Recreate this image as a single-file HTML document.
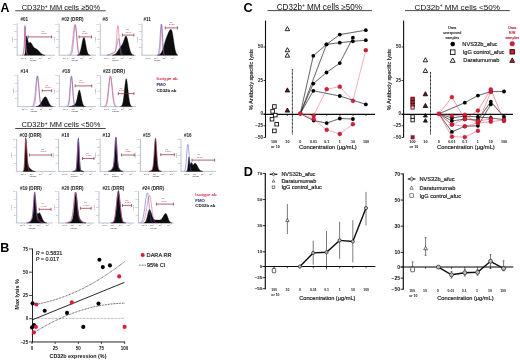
<!DOCTYPE html>
<html><head><meta charset="utf-8"><title>Figure</title>
<style>html,body{margin:0;padding:0;background:#fff}body{width:520px;height:360px;overflow:hidden}</style></head>
<body>
<svg width="520" height="360" viewBox="0 0 520 360" style="display:block;font-family:'Liberation Sans',Arial,sans-serif">
<defs><filter id="soft" x="0" y="0" width="100%" height="100%"><feGaussianBlur stdDeviation="0.3"/></filter></defs>
<rect width="520" height="360" fill="#fff"/>
<g filter="url(#soft)">
<text x="0.4" y="11.5" font-size="12.3" font-weight="bold" fill="#000">A</text>
<text x="21.7" y="10.3" font-size="7.45" fill="#111">CD32b<tspan font-size="4.8" dy="-2.5">+</tspan><tspan dy="2.5"> </tspan>MM cells ≥50%</text>
<path d="M15.2 10.8 H105.7" stroke="#1a1a1a" stroke-width="0.8"/>
<text x="20.4" y="20.9" font-size="4.6" font-weight="bold" fill="#1a1a1a">#01</text>
<path d="M17.2 23.8 V55.2 H55" fill="none" stroke="#959bb8" stroke-width="0.6"/>
<path d="M17.2 23.8 h-1.0" stroke="#959bb8" stroke-width="0.4"/>
<text x="16.1" y="24.5" font-size="1.7" fill="#8e94ae" text-anchor="end">100</text>
<path d="M17.2 31.65 h-1.0" stroke="#959bb8" stroke-width="0.4"/>
<text x="16.1" y="32.35" font-size="1.7" fill="#8e94ae" text-anchor="end">75</text>
<path d="M17.2 39.5 h-1.0" stroke="#959bb8" stroke-width="0.4"/>
<text x="16.1" y="40.2" font-size="1.7" fill="#8e94ae" text-anchor="end">50</text>
<path d="M17.2 47.35 h-1.0" stroke="#959bb8" stroke-width="0.4"/>
<text x="16.1" y="48.05" font-size="1.7" fill="#8e94ae" text-anchor="end">25</text>
<path d="M17.2 55.2 h-1.0" stroke="#959bb8" stroke-width="0.4"/>
<text transform="translate(13 39.5) rotate(-90)" font-size="2.0" fill="#6a7090" text-anchor="middle">Count</text>
<text x="22.11" y="58.5" font-size="2.4" fill="#444" text-anchor="middle">-10³</text>
<path d="M22.11 55.2 v0.9" stroke="#959bb8" stroke-width="0.35"/>
<text x="25.52" y="58.5" font-size="2.4" fill="#444" text-anchor="middle">0</text>
<path d="M25.52 55.2 v0.9" stroke="#959bb8" stroke-width="0.35"/>
<text x="31.56" y="58.5" font-size="2.4" fill="#444" text-anchor="middle">10³</text>
<path d="M31.56 55.2 v0.9" stroke="#959bb8" stroke-width="0.35"/>
<text x="40.64" y="58.5" font-size="2.4" fill="#444" text-anchor="middle">10⁴</text>
<path d="M40.64 55.2 v0.9" stroke="#959bb8" stroke-width="0.35"/>
<text x="49.71" y="58.5" font-size="2.4" fill="#444" text-anchor="middle">10⁵</text>
<path d="M49.71 55.2 v0.9" stroke="#959bb8" stroke-width="0.35"/>
<text x="33.08" y="60.8" font-size="2.2" fill="#444" text-anchor="middle">CD32b</text>
<path d="M24.05 55.15 L24.32 55.04 L24.58 54.74 L24.85 54.01 L25.11 52.52 L25.38 49.95 L25.64 46.25 L25.91 41.94 L26.17 38.1 L26.44 36 L26.7 35.79 L26.97 36.25 L27.23 37.2 L27.5 38.44 L27.76 39.77 L28.03 40.99 L28.29 41.96 L28.55 42.59 L28.82 42.89 L29.08 42.89 L29.35 42.72 L29.61 42.48 L29.88 42.3 L30.14 42.26 L30.41 42.38 L30.67 42.54 L30.94 42.76 L31.2 43.05 L31.47 43.4 L31.73 43.81 L32 44.26 L32.26 44.73 L32.53 45.21 L32.79 45.69 L33.06 46.14 L33.32 46.56 L33.58 46.94 L33.85 47.28 L34.11 47.56 L34.38 47.81 L34.64 48.01 L34.91 48.17 L35.17 48.31 L35.44 48.43 L35.7 48.55 L35.97 48.67 L36.23 48.8 L36.5 48.95 L36.76 49.11 L37.03 49.29 L37.29 49.49 L37.56 49.71 L37.82 49.95 L38.09 50.21 L38.35 50.48 L38.62 50.77 L38.88 51.07 L39.14 51.37 L39.41 51.68 L39.67 51.98 L39.94 52.29 L40.2 52.58 L40.47 52.86 L40.73 53.13 L41 53.38 L41.26 53.61 L41.53 53.82 L41.79 54.02 L42.06 54.19 L42.32 54.35 L42.59 54.48 L42.85 54.6 L43.12 54.71 L43.38 54.8 L43.65 54.87 L43.91 54.93 L44.17 54.99 L44.44 55.03 L44.7 55.07 L44.97 55.1 L44.97 55.2 L24.05 55.2 Z" fill="#0a0a0a" stroke="#0a0a0a" stroke-width="0.3"/>
<path d="M22.2 55.12 L22.47 55.01 L22.73 54.77 L22.99 54.31 L23.26 53.54 L23.52 52.35 L23.79 50.68 L24.05 48.4 L24.32 44.66 L24.58 37.72 L24.85 29.1 L25.11 26.5 L25.38 32.93 L25.64 41.26 L25.91 46.37 L26.17 49.13 L26.44 51.06 L26.7 52.55 L26.97 53.63 L27.23 54.34 L27.5 54.76 L27.76 55 L28.03 55.11" fill="none" stroke="#5a58c0" stroke-width="0.55"/>
<path d="M22.2 55.15 L22.47 55.06 L22.73 54.86 L22.99 54.46 L23.26 53.72 L23.52 52.54 L23.79 50.83 L24.05 48.5 L24.32 44.53 L24.58 36.41 L24.85 26.41 L25.11 25.44 L25.38 34.74 L25.64 43.37 L25.91 47.64 L26.17 50.04 L26.44 51.84 L26.7 53.19 L26.97 54.1 L27.23 54.64 L27.5 54.94 L27.76 55.09" fill="none" stroke="#da5272" stroke-width="0.55"/>
<path d="M28.3 36.9 H51.7 M28.3 35.4 v3 M51.7 35.4 v3" fill="none" stroke="#8a2636" stroke-width="0.7"/>
<text x="43" y="32" font-size="2.1" fill="#a83040" text-anchor="middle">M1</text>
<text x="44" y="34.3" font-size="2.1" fill="#a83040" text-anchor="middle">72.8%</text>
<text x="61.6" y="20.9" font-size="4.6" font-weight="bold" fill="#1a1a1a">#02 (DRR)</text>
<path d="M59.2 23.8 V55.2 H96" fill="none" stroke="#959bb8" stroke-width="0.6"/>
<path d="M59.2 23.8 h-1.0" stroke="#959bb8" stroke-width="0.4"/>
<text x="58.1" y="24.5" font-size="1.7" fill="#8e94ae" text-anchor="end">100</text>
<path d="M59.2 31.65 h-1.0" stroke="#959bb8" stroke-width="0.4"/>
<text x="58.1" y="32.35" font-size="1.7" fill="#8e94ae" text-anchor="end">75</text>
<path d="M59.2 39.5 h-1.0" stroke="#959bb8" stroke-width="0.4"/>
<text x="58.1" y="40.2" font-size="1.7" fill="#8e94ae" text-anchor="end">50</text>
<path d="M59.2 47.35 h-1.0" stroke="#959bb8" stroke-width="0.4"/>
<text x="58.1" y="48.05" font-size="1.7" fill="#8e94ae" text-anchor="end">25</text>
<path d="M59.2 55.2 h-1.0" stroke="#959bb8" stroke-width="0.4"/>
<text transform="translate(55 39.5) rotate(-90)" font-size="2.0" fill="#6a7090" text-anchor="middle">Count</text>
<text x="63.98" y="58.5" font-size="2.4" fill="#444" text-anchor="middle">-10³</text>
<path d="M63.98 55.2 v0.9" stroke="#959bb8" stroke-width="0.35"/>
<text x="67.3" y="58.5" font-size="2.4" fill="#444" text-anchor="middle">0</text>
<path d="M67.3 55.2 v0.9" stroke="#959bb8" stroke-width="0.35"/>
<text x="73.18" y="58.5" font-size="2.4" fill="#444" text-anchor="middle">10³</text>
<path d="M73.18 55.2 v0.9" stroke="#959bb8" stroke-width="0.35"/>
<text x="82.02" y="58.5" font-size="2.4" fill="#444" text-anchor="middle">10⁴</text>
<path d="M82.02 55.2 v0.9" stroke="#959bb8" stroke-width="0.35"/>
<text x="90.85" y="58.5" font-size="2.4" fill="#444" text-anchor="middle">10⁵</text>
<path d="M90.85 55.2 v0.9" stroke="#959bb8" stroke-width="0.35"/>
<text x="74.66" y="60.8" font-size="2.2" fill="#444" text-anchor="middle">CD32b</text>
<path d="M77.21 55.09 L77.47 55.04 L77.73 54.96 L77.99 54.86 L78.24 54.73 L78.5 54.55 L78.76 54.31 L79.02 54.01 L79.27 53.63 L79.53 53.15 L79.79 52.58 L80.05 51.89 L80.3 51.09 L80.56 50.17 L80.82 49.13 L81.08 47.99 L81.33 46.76 L81.59 45.47 L81.85 44.15 L82.11 42.84 L82.36 41.57 L82.62 40.41 L82.88 39.38 L83.14 38.54 L83.39 37.91 L83.65 37.52 L83.91 37.4 L84.17 37.58 L84.43 38.07 L84.68 38.85 L84.94 39.88 L85.2 41.1 L85.46 42.47 L85.71 43.91 L85.97 45.37 L86.23 46.8 L86.49 48.15 L86.74 49.39 L87 50.5 L87.26 51.47 L87.52 52.29 L87.77 52.97 L88.03 53.53 L88.29 53.96 L88.55 54.3 L88.8 54.56 L89.06 54.76 L89.32 54.9 L89.58 54.99 L89.83 55.06 L90.09 55.11 L90.09 55.2 L77.21 55.2 Z" fill="#0a0a0a" stroke="#0a0a0a" stroke-width="0.3"/>
<path d="M70.26 55.09 L70.52 55.01 L70.77 54.88 L71.03 54.68 L71.29 54.36 L71.55 53.89 L71.81 53.21 L72.06 52.28 L72.32 51.03 L72.58 49.42 L72.84 47.42 L73.09 45.04 L73.35 42.31 L73.61 39.32 L73.87 36.21 L74.12 33.15 L74.38 30.34 L74.64 27.98 L74.9 26.27 L75.15 25.34 L75.41 25.29 L75.67 26.22 L75.93 28.05 L76.18 30.62 L76.44 33.68 L76.7 36.99 L76.96 40.3 L77.21 43.41 L77.47 46.19 L77.73 48.54 L77.99 50.44 L78.24 51.91 L78.5 53 L78.76 53.78 L79.02 54.32 L79.27 54.67 L79.53 54.89 L79.79 55.02 L80.05 55.1" fill="none" stroke="#5a58c0" stroke-width="0.55"/>
<path d="M68.46 55.12 L68.71 55.07 L68.97 55 L69.23 54.89 L69.49 54.74 L69.74 54.52 L70 54.23 L70.26 53.82 L70.52 53.28 L70.77 52.58 L71.03 51.7 L71.29 50.59 L71.55 49.25 L71.81 47.66 L72.06 45.82 L72.32 43.73 L72.58 41.45 L72.84 39 L73.09 36.47 L73.35 33.93 L73.61 31.5 L73.87 29.26 L74.12 27.33 L74.38 25.8 L74.64 24.76 L74.9 24.25 L75.15 24.32 L75.41 25.04 L75.67 26.38 L75.93 28.25 L76.18 30.54 L76.44 33.11 L76.7 35.85 L76.96 38.6 L77.21 41.27 L77.47 43.76 L77.73 46.01 L77.99 47.97 L78.24 49.64 L78.5 51.01 L78.76 52.11 L79.02 52.97 L79.27 53.63 L79.53 54.12 L79.79 54.47 L80.05 54.72 L80.3 54.89 L80.56 55 L80.82 55.08 L81.08 55.13" fill="none" stroke="#da5272" stroke-width="0.55"/>
<path d="M79 36.9 H91.5 M79 35.4 v3 M91.5 35.4 v3" fill="none" stroke="#8a2636" stroke-width="0.7"/>
<text x="84" y="32" font-size="2.1" fill="#a83040" text-anchor="middle">M1</text>
<text x="85" y="34.3" font-size="2.1" fill="#a83040" text-anchor="middle">97.2%</text>
<text x="102.6" y="20.9" font-size="4.6" font-weight="bold" fill="#1a1a1a">#8</text>
<path d="M100.3 23.8 V55.2 H136" fill="none" stroke="#959bb8" stroke-width="0.6"/>
<path d="M100.3 23.8 h-1.0" stroke="#959bb8" stroke-width="0.4"/>
<text x="99.2" y="24.5" font-size="1.7" fill="#8e94ae" text-anchor="end">100</text>
<path d="M100.3 31.65 h-1.0" stroke="#959bb8" stroke-width="0.4"/>
<text x="99.2" y="32.35" font-size="1.7" fill="#8e94ae" text-anchor="end">75</text>
<path d="M100.3 39.5 h-1.0" stroke="#959bb8" stroke-width="0.4"/>
<text x="99.2" y="40.2" font-size="1.7" fill="#8e94ae" text-anchor="end">50</text>
<path d="M100.3 47.35 h-1.0" stroke="#959bb8" stroke-width="0.4"/>
<text x="99.2" y="48.05" font-size="1.7" fill="#8e94ae" text-anchor="end">25</text>
<path d="M100.3 55.2 h-1.0" stroke="#959bb8" stroke-width="0.4"/>
<text transform="translate(96.1 39.5) rotate(-90)" font-size="2.0" fill="#6a7090" text-anchor="middle">Count</text>
<text x="104.94" y="58.5" font-size="2.4" fill="#444" text-anchor="middle">-10³</text>
<path d="M104.94 55.2 v0.9" stroke="#959bb8" stroke-width="0.35"/>
<text x="108.15" y="58.5" font-size="2.4" fill="#444" text-anchor="middle">0</text>
<path d="M108.15 55.2 v0.9" stroke="#959bb8" stroke-width="0.35"/>
<text x="113.87" y="58.5" font-size="2.4" fill="#444" text-anchor="middle">10³</text>
<path d="M113.87 55.2 v0.9" stroke="#959bb8" stroke-width="0.35"/>
<text x="122.43" y="58.5" font-size="2.4" fill="#444" text-anchor="middle">10⁴</text>
<path d="M122.43 55.2 v0.9" stroke="#959bb8" stroke-width="0.35"/>
<text x="131" y="58.5" font-size="2.4" fill="#444" text-anchor="middle">10⁵</text>
<path d="M131 55.2 v0.9" stroke="#959bb8" stroke-width="0.35"/>
<text x="115.29" y="60.8" font-size="2.2" fill="#444" text-anchor="middle">CD32b</text>
<path d="M112.28 55.09 L112.53 55.06 L112.78 55.02 L113.03 54.98 L113.28 54.93 L113.53 54.86 L113.78 54.79 L114.03 54.7 L114.28 54.59 L114.53 54.47 L114.78 54.33 L115.03 54.16 L115.28 53.98 L115.53 53.78 L115.78 53.55 L116.03 53.3 L116.28 53.03 L116.53 52.73 L116.78 52.41 L117.03 52.07 L117.28 51.72 L117.53 51.35 L117.78 50.97 L118.03 50.58 L118.27 50.19 L118.52 49.8 L118.77 49.41 L119.02 49.02 L119.27 48.65 L119.52 48.29 L119.77 47.94 L120.02 47.6 L120.27 47.27 L120.52 46.94 L120.77 46.61 L121.02 46.27 L121.27 45.93 L121.52 45.58 L121.77 45.21 L122.02 44.8 L122.27 44.36 L122.52 43.88 L122.77 43.33 L123.02 42.74 L123.27 42.09 L123.52 41.39 L123.77 40.66 L124.02 39.9 L124.27 39.15 L124.52 38.43 L124.77 37.75 L125.02 37.16 L125.26 36.67 L125.51 36.32 L125.76 36.12 L126.01 36.09 L126.26 36.24 L126.51 36.56 L126.76 37.04 L127.01 37.68 L127.26 38.47 L127.51 39.37 L127.76 40.38 L128.01 41.46 L128.26 42.6 L128.51 43.76 L128.76 44.92 L129.01 46.06 L129.26 47.16 L129.51 48.21 L129.76 49.18 L130.01 50.07 L130.26 50.88 L130.51 51.59 L130.76 52.23 L131.01 52.77 L131.26 53.24 L131.51 53.63 L131.76 53.96 L132.01 54.23 L132.25 54.45 L132.5 54.63 L132.75 54.77 L133 54.88 L133.25 54.96 L133.5 55.02 L133.75 55.07 L134 55.11 L134 55.2 L112.28 55.2 Z" fill="#0a0a0a" stroke="#0a0a0a" stroke-width="0.3"/>
<path d="M107.54 55.09 L107.79 55.06 L108.04 55.03 L108.29 55 L108.54 54.95 L108.79 54.91 L109.04 54.85 L109.29 54.79 L109.54 54.72 L109.79 54.65 L110.04 54.56 L110.29 54.47 L110.54 54.37 L110.79 54.27 L111.04 54.16 L111.28 54.04 L111.53 53.92 L111.78 53.79 L112.03 53.67 L112.28 53.54 L112.53 53.41 L112.78 53.29 L113.03 53.17 L113.28 53.05 L113.53 52.93 L113.78 52.81 L114.03 52.67 L114.28 52.52 L114.53 52.33 L114.78 52.08 L115.03 51.76 L115.28 51.34 L115.53 50.82 L115.78 50.15 L116.03 49.33 L116.28 48.33 L116.53 47.17 L116.78 45.87 L117.03 44.47 L117.28 43.05 L117.53 41.69 L117.78 40.49 L118.03 39.54 L118.27 38.92 L118.52 38.69 L118.77 38.87 L119.02 39.42 L119.27 40.3 L119.52 41.46 L119.77 42.82 L120.02 44.32 L120.27 45.85 L120.52 47.37 L120.77 48.79 L121.02 50.08 L121.27 51.21 L121.52 52.16 L121.77 52.94 L122.02 53.56 L122.27 54.04 L122.52 54.4 L122.77 54.66 L123.02 54.85 L123.27 54.97 L123.52 55.06 L123.77 55.11" fill="none" stroke="#5a58c0" stroke-width="0.55"/>
<path d="M106.79 55.09 L107.04 55.06 L107.29 55.03 L107.54 55 L107.79 54.95 L108.04 54.9 L108.29 54.85 L108.54 54.78 L108.79 54.71 L109.04 54.63 L109.29 54.54 L109.54 54.44 L109.79 54.33 L110.04 54.21 L110.29 54.08 L110.54 53.95 L110.79 53.81 L111.04 53.66 L111.28 53.51 L111.53 53.36 L111.78 53.21 L112.03 53.06 L112.28 52.92 L112.53 52.78 L112.78 52.65 L113.03 52.54 L113.28 52.43 L113.53 52.34 L113.78 52.26 L114.03 52.18 L114.28 52.08 L114.53 51.93 L114.78 51.71 L115.03 51.34 L115.28 50.72 L115.53 49.73 L115.78 48.24 L116.03 46.14 L116.28 43.4 L116.53 40.09 L116.78 36.41 L117.03 32.69 L117.28 29.36 L117.53 26.87 L117.78 25.6 L118.03 25.72 L118.27 27.08 L118.52 29.48 L118.77 32.65 L119.02 36.26 L119.27 39.96 L119.52 43.45 L119.77 46.53 L120.02 49.06 L120.27 51.04 L120.52 52.5 L120.77 53.52 L121.02 54.2 L121.27 54.63 L121.52 54.89 L121.77 55.04 L122.02 55.12" fill="none" stroke="#da5272" stroke-width="0.55"/>
<path d="M122.5 35.1 H133.9 M122.5 33.6 v3 M133.9 33.6 v3" fill="none" stroke="#8a2636" stroke-width="0.7"/>
<text x="127.5" y="30.2" font-size="2.1" fill="#a83040" text-anchor="middle">M1</text>
<text x="128.5" y="32.5" font-size="2.1" fill="#a83040" text-anchor="middle">75.9%</text>
<text x="143.4" y="20.9" font-size="4.6" font-weight="bold" fill="#1a1a1a">#11</text>
<path d="M142 23.8 V55.2 H178" fill="none" stroke="#959bb8" stroke-width="0.6"/>
<path d="M142 23.8 h-1.0" stroke="#959bb8" stroke-width="0.4"/>
<text x="140.9" y="24.5" font-size="1.7" fill="#8e94ae" text-anchor="end">100</text>
<path d="M142 31.65 h-1.0" stroke="#959bb8" stroke-width="0.4"/>
<text x="140.9" y="32.35" font-size="1.7" fill="#8e94ae" text-anchor="end">75</text>
<path d="M142 39.5 h-1.0" stroke="#959bb8" stroke-width="0.4"/>
<text x="140.9" y="40.2" font-size="1.7" fill="#8e94ae" text-anchor="end">50</text>
<path d="M142 47.35 h-1.0" stroke="#959bb8" stroke-width="0.4"/>
<text x="140.9" y="48.05" font-size="1.7" fill="#8e94ae" text-anchor="end">25</text>
<path d="M142 55.2 h-1.0" stroke="#959bb8" stroke-width="0.4"/>
<text transform="translate(137.8 39.5) rotate(-90)" font-size="2.0" fill="#6a7090" text-anchor="middle">Count</text>
<text x="146.68" y="58.5" font-size="2.4" fill="#444" text-anchor="middle">-10³</text>
<path d="M146.68 55.2 v0.9" stroke="#959bb8" stroke-width="0.35"/>
<text x="149.92" y="58.5" font-size="2.4" fill="#444" text-anchor="middle">0</text>
<path d="M149.92 55.2 v0.9" stroke="#959bb8" stroke-width="0.35"/>
<text x="155.68" y="58.5" font-size="2.4" fill="#444" text-anchor="middle">10³</text>
<path d="M155.68 55.2 v0.9" stroke="#959bb8" stroke-width="0.35"/>
<text x="164.32" y="58.5" font-size="2.4" fill="#444" text-anchor="middle">10⁴</text>
<path d="M164.32 55.2 v0.9" stroke="#959bb8" stroke-width="0.35"/>
<text x="172.96" y="58.5" font-size="2.4" fill="#444" text-anchor="middle">10⁵</text>
<path d="M172.96 55.2 v0.9" stroke="#959bb8" stroke-width="0.35"/>
<text x="157.12" y="60.8" font-size="2.2" fill="#444" text-anchor="middle">CD32b</text>
<path d="M157.61 55.1 L157.86 55.07 L158.11 55.03 L158.36 54.97 L158.62 54.91 L158.87 54.83 L159.12 54.73 L159.37 54.61 L159.62 54.46 L159.87 54.29 L160.13 54.09 L160.38 53.84 L160.63 53.56 L160.88 53.24 L161.13 52.87 L161.38 52.45 L161.64 51.99 L161.89 51.47 L162.14 50.9 L162.39 50.28 L162.64 49.61 L162.9 48.9 L163.15 48.14 L163.4 47.35 L163.65 46.54 L163.9 45.7 L164.15 44.85 L164.41 43.99 L164.66 43.13 L164.91 42.28 L165.16 41.44 L165.41 40.63 L165.67 39.84 L165.92 39.07 L166.17 38.34 L166.42 37.64 L166.67 36.96 L166.92 36.29 L167.18 35.64 L167.43 35 L167.68 34.37 L167.93 33.76 L168.18 33.17 L168.44 32.6 L168.69 32.05 L168.94 31.53 L169.19 31.04 L169.44 30.61 L169.69 30.22 L169.95 29.9 L170.2 29.65 L170.45 29.49 L170.7 29.43 L170.95 29.46 L171.21 29.61 L171.46 29.87 L171.71 30.27 L171.96 30.92 L172.21 31.84 L172.46 33.01 L172.72 34.39 L172.97 35.94 L173.22 37.61 L173.47 39.35 L173.72 41.12 L173.97 42.86 L174.23 44.53 L174.48 46.1 L174.73 47.55 L174.98 48.86 L175.23 50.02 L175.49 51.02 L175.74 51.88 L175.99 52.6 L176.24 53.19 L176.49 53.67 L176.74 54.05 L177 54.35 L177.25 54.58 L177.5 54.75 L177.5 55.2 L157.61 55.2 Z" fill="#0a0a0a" stroke="#0a0a0a" stroke-width="0.3"/>
<path d="M158.62 55.11 L158.87 54.98 L159.12 54.7 L159.37 54.13 L159.62 53.08 L159.87 51.3 L160.13 48.59 L160.38 44.84 L160.63 40.17 L160.88 35.03 L161.13 30.19 L161.38 26.51 L161.64 24.78 L161.89 25.36 L162.14 28.14 L162.39 32.51 L162.64 37.6 L162.9 42.58 L163.15 46.83 L163.4 50.07 L163.65 52.29 L163.9 53.67 L164.15 54.46 L164.41 54.87 L164.66 55.06 L164.91 55.15" fill="none" stroke="#da5272" stroke-width="0.55"/>
<path d="M157.36 55.11 L157.61 55.02 L157.86 54.84 L158.11 54.53 L158.36 54 L158.62 53.15 L158.87 51.86 L159.12 50.02 L159.37 47.54 L159.62 44.4 L159.87 40.69 L160.13 36.61 L160.38 32.51 L160.63 28.79 L160.88 25.91 L161.13 24.23 L161.38 24.01 L161.64 25.62 L161.89 28.88 L162.14 33.21 L162.39 37.96 L162.64 42.51 L162.9 46.44 L163.15 49.52 L163.4 51.74 L163.65 53.23 L163.9 54.14 L164.15 54.67 L164.41 54.95 L164.66 55.09" fill="none" stroke="#5a58c0" stroke-width="0.55"/>
<path d="M165.3 27.9 H177.5 M165.3 26.4 v3 M177.5 26.4 v3" fill="none" stroke="#8a2636" stroke-width="0.7"/>
<text x="171" y="23" font-size="2.1" fill="#a83040" text-anchor="middle">M1</text>
<text x="172" y="25.3" font-size="2.1" fill="#a83040" text-anchor="middle">83.5%</text>
<text x="20.4" y="72.8" font-size="4.6" font-weight="bold" fill="#1a1a1a">#14</text>
<path d="M17.8 75.2 V106.6 H55.8" fill="none" stroke="#959bb8" stroke-width="0.6"/>
<path d="M17.8 75.2 h-1.0" stroke="#959bb8" stroke-width="0.4"/>
<text x="16.7" y="75.9" font-size="1.7" fill="#8e94ae" text-anchor="end">100</text>
<path d="M17.8 83.05 h-1.0" stroke="#959bb8" stroke-width="0.4"/>
<text x="16.7" y="83.75" font-size="1.7" fill="#8e94ae" text-anchor="end">75</text>
<path d="M17.8 90.9 h-1.0" stroke="#959bb8" stroke-width="0.4"/>
<text x="16.7" y="91.6" font-size="1.7" fill="#8e94ae" text-anchor="end">50</text>
<path d="M17.8 98.75 h-1.0" stroke="#959bb8" stroke-width="0.4"/>
<text x="16.7" y="99.45" font-size="1.7" fill="#8e94ae" text-anchor="end">25</text>
<path d="M17.8 106.6 h-1.0" stroke="#959bb8" stroke-width="0.4"/>
<text transform="translate(13.6 90.9) rotate(-90)" font-size="2.0" fill="#6a7090" text-anchor="middle">Count</text>
<text x="22.74" y="109.9" font-size="2.4" fill="#444" text-anchor="middle">-10³</text>
<path d="M22.74 106.6 v0.9" stroke="#959bb8" stroke-width="0.35"/>
<text x="26.16" y="109.9" font-size="2.4" fill="#444" text-anchor="middle">0</text>
<path d="M26.16 106.6 v0.9" stroke="#959bb8" stroke-width="0.35"/>
<text x="32.24" y="109.9" font-size="2.4" fill="#444" text-anchor="middle">10³</text>
<path d="M32.24 106.6 v0.9" stroke="#959bb8" stroke-width="0.35"/>
<text x="41.36" y="109.9" font-size="2.4" fill="#444" text-anchor="middle">10⁴</text>
<path d="M41.36 106.6 v0.9" stroke="#959bb8" stroke-width="0.35"/>
<text x="50.48" y="109.9" font-size="2.4" fill="#444" text-anchor="middle">10⁵</text>
<path d="M50.48 106.6 v0.9" stroke="#959bb8" stroke-width="0.35"/>
<text x="33.76" y="112.2" font-size="2.2" fill="#444" text-anchor="middle">CD32b</text>
<path d="M35.87 106.48 L36.13 106.45 L36.4 106.41 L36.67 106.36 L36.93 106.3 L37.2 106.23 L37.47 106.15 L37.73 106.05 L38 105.92 L38.26 105.78 L38.53 105.62 L38.8 105.43 L39.06 105.22 L39.33 104.98 L39.59 104.71 L39.86 104.41 L40.13 104.08 L40.39 103.72 L40.66 103.33 L40.93 102.91 L41.19 102.47 L41.46 102.01 L41.72 101.53 L41.99 101.04 L42.26 100.55 L42.52 100.06 L42.79 99.57 L43.06 99.11 L43.32 98.66 L43.59 98.25 L43.85 97.88 L44.12 97.55 L44.39 97.28 L44.65 97.06 L44.92 96.91 L45.18 96.82 L45.45 96.8 L45.72 96.87 L45.98 97.04 L46.25 97.31 L46.52 97.66 L46.78 98.09 L47.05 98.58 L47.31 99.13 L47.58 99.71 L47.85 100.31 L48.11 100.91 L48.38 101.52 L48.65 102.1 L48.91 102.66 L49.18 103.19 L49.44 103.68 L49.71 104.12 L49.98 104.52 L50.24 104.87 L50.51 105.18 L50.77 105.44 L51.04 105.67 L51.31 105.86 L51.57 106.02 L51.84 106.14 L52.11 106.25 L52.37 106.33 L52.64 106.4 L52.9 106.45 L53.17 106.49 L53.17 106.6 L35.87 106.6 Z" fill="#0a0a0a" stroke="#0a0a0a" stroke-width="0.3"/>
<path d="M33.21 106.48 L33.47 106.38 L33.74 106.19 L34.01 105.89 L34.27 105.41 L34.54 104.67 L34.8 103.6 L35.07 102.1 L35.34 100.12 L35.6 97.63 L35.87 94.65 L36.13 91.28 L36.4 87.72 L36.67 84.22 L36.93 81.07 L37.2 78.59 L37.47 77.05 L37.73 76.61 L38 77.32 L38.26 79.11 L38.53 81.77 L38.8 85.03 L39.06 88.57 L39.33 92.11 L39.59 95.4 L39.86 98.27 L40.13 100.64 L40.39 102.5 L40.66 103.89 L40.93 104.87 L41.19 105.54 L41.46 105.98 L41.72 106.25 L41.99 106.41 L42.26 106.5" fill="none" stroke="#da5272" stroke-width="0.55"/>
<path d="M31.61 106.52 L31.88 106.46 L32.14 106.37 L32.41 106.22 L32.67 105.99 L32.94 105.66 L33.21 105.18 L33.47 104.51 L33.74 103.6 L34.01 102.41 L34.27 100.89 L34.54 99.02 L34.8 96.79 L35.07 94.25 L35.34 91.43 L35.6 88.46 L35.87 85.46 L36.13 82.6 L36.4 80.05 L36.67 77.99 L36.93 76.55 L37.2 75.86 L37.47 75.99 L37.73 77.05 L38 78.96 L38.26 81.55 L38.53 84.6 L38.8 87.87 L39.06 91.16 L39.33 94.26 L39.59 97.04 L39.86 99.43 L40.13 101.39 L40.39 102.93 L40.66 104.09 L40.93 104.94 L41.19 105.54 L41.46 105.94 L41.72 106.2 L41.99 106.37 L42.26 106.47 L42.52 106.53" fill="none" stroke="#5a58c0" stroke-width="0.55"/>
<path d="M42.2 90.7 H51.7 M42.2 89.2 v3 M51.7 89.2 v3" fill="none" stroke="#8a2636" stroke-width="0.7"/>
<text x="47" y="85.8" font-size="2.1" fill="#a83040" text-anchor="middle">M1</text>
<text x="48" y="88.1" font-size="2.1" fill="#a83040" text-anchor="middle">92.1%</text>
<text x="62.3" y="72.8" font-size="4.6" font-weight="bold" fill="#1a1a1a">#18</text>
<path d="M59.3 75.2 V106.6 H96" fill="none" stroke="#959bb8" stroke-width="0.6"/>
<path d="M59.3 75.2 h-1.0" stroke="#959bb8" stroke-width="0.4"/>
<text x="58.2" y="75.9" font-size="1.7" fill="#8e94ae" text-anchor="end">100</text>
<path d="M59.3 83.05 h-1.0" stroke="#959bb8" stroke-width="0.4"/>
<text x="58.2" y="83.75" font-size="1.7" fill="#8e94ae" text-anchor="end">75</text>
<path d="M59.3 90.9 h-1.0" stroke="#959bb8" stroke-width="0.4"/>
<text x="58.2" y="91.6" font-size="1.7" fill="#8e94ae" text-anchor="end">50</text>
<path d="M59.3 98.75 h-1.0" stroke="#959bb8" stroke-width="0.4"/>
<text x="58.2" y="99.45" font-size="1.7" fill="#8e94ae" text-anchor="end">25</text>
<path d="M59.3 106.6 h-1.0" stroke="#959bb8" stroke-width="0.4"/>
<text transform="translate(55.1 90.9) rotate(-90)" font-size="2.0" fill="#6a7090" text-anchor="middle">Count</text>
<text x="64.07" y="109.9" font-size="2.4" fill="#444" text-anchor="middle">-10³</text>
<path d="M64.07 106.6 v0.9" stroke="#959bb8" stroke-width="0.35"/>
<text x="67.37" y="109.9" font-size="2.4" fill="#444" text-anchor="middle">0</text>
<path d="M67.37 106.6 v0.9" stroke="#959bb8" stroke-width="0.35"/>
<text x="73.25" y="109.9" font-size="2.4" fill="#444" text-anchor="middle">10³</text>
<path d="M73.25 106.6 v0.9" stroke="#959bb8" stroke-width="0.35"/>
<text x="82.05" y="109.9" font-size="2.4" fill="#444" text-anchor="middle">10⁴</text>
<path d="M82.05 106.6 v0.9" stroke="#959bb8" stroke-width="0.35"/>
<text x="90.86" y="109.9" font-size="2.4" fill="#444" text-anchor="middle">10⁵</text>
<path d="M90.86 106.6 v0.9" stroke="#959bb8" stroke-width="0.35"/>
<text x="74.71" y="112.2" font-size="2.2" fill="#444" text-anchor="middle">CD32b</text>
<path d="M68.79 106.49 L69.05 106.46 L69.3 106.44 L69.56 106.41 L69.82 106.38 L70.07 106.34 L70.33 106.29 L70.59 106.24 L70.84 106.19 L71.1 106.13 L71.36 106.06 L71.61 105.99 L71.87 105.91 L72.13 105.83 L72.38 105.74 L72.64 105.64 L72.9 105.54 L73.16 105.43 L73.41 105.31 L73.67 105.18 L73.93 105.03 L74.18 104.87 L74.44 104.69 L74.7 104.47 L74.95 104.21 L75.21 103.89 L75.47 103.49 L75.72 103 L75.98 102.41 L76.24 101.69 L76.49 100.84 L76.75 99.85 L77.01 98.74 L77.26 97.52 L77.52 96.23 L77.78 94.91 L78.04 93.63 L78.29 92.46 L78.55 91.46 L78.81 90.69 L79.06 90.2 L79.32 90.04 L79.58 90.2 L79.83 90.67 L80.09 91.4 L80.35 92.38 L80.6 93.54 L80.86 94.83 L81.12 96.19 L81.37 97.57 L81.63 98.9 L81.89 100.16 L82.14 101.31 L82.4 102.33 L82.66 103.21 L82.92 103.96 L83.17 104.57 L83.43 105.06 L83.69 105.45 L83.94 105.75 L84.2 105.98 L84.46 106.15 L84.71 106.28 L84.97 106.37 L85.23 106.43 L85.48 106.48 L85.74 106.51 L85.74 106.6 L68.79 106.6 Z" fill="#0a0a0a" stroke="#0a0a0a" stroke-width="0.3"/>
<path d="M67.51 106.53 L67.76 106.45 L68.02 106.3 L68.28 106.02 L68.53 105.54 L68.79 104.77 L69.05 103.57 L69.3 101.84 L69.56 99.49 L69.82 96.5 L70.07 92.93 L70.33 89.02 L70.59 85.07 L70.84 81.53 L71.1 78.83 L71.36 77.33 L71.61 77.25 L71.87 78.6 L72.13 81.19 L72.38 84.66 L72.64 88.58 L72.9 92.52 L73.16 96.13 L73.41 99.2 L73.67 101.62 L73.93 103.41 L74.18 104.66 L74.44 105.48 L74.7 105.98 L74.95 106.28 L75.21 106.44 L75.47 106.52" fill="none" stroke="#da5272" stroke-width="0.55"/>
<path d="M66.73 106.48 L66.99 106.38 L67.25 106.22 L67.51 105.96 L67.76 105.55 L68.02 104.94 L68.28 104.06 L68.53 102.83 L68.79 101.21 L69.05 99.13 L69.3 96.6 L69.56 93.66 L69.82 90.41 L70.07 87 L70.33 83.67 L70.59 80.66 L70.84 78.23 L71.1 76.59 L71.36 75.91 L71.61 76.28 L71.87 77.71 L72.13 80.06 L72.38 83.07 L72.64 86.49 L72.9 90.02 L73.16 93.42 L73.41 96.49 L73.67 99.12 L73.93 101.27 L74.18 102.93 L74.44 104.17 L74.7 105.04 L74.95 105.64 L75.21 106.03 L75.47 106.27 L75.72 106.42 L75.98 106.5" fill="none" stroke="#5a58c0" stroke-width="0.55"/>
<path d="M75.1 85.9 H91.8 M75.1 84.4 v3 M91.8 84.4 v3" fill="none" stroke="#8a2636" stroke-width="0.7"/>
<text x="81" y="81" font-size="2.1" fill="#a83040" text-anchor="middle">M1</text>
<text x="82" y="83.3" font-size="2.1" fill="#a83040" text-anchor="middle">76.4%</text>
<text x="103" y="72.8" font-size="4.6" font-weight="bold" fill="#1a1a1a">#23 (DRR)</text>
<path d="M100.6 75.2 V106.6 H136" fill="none" stroke="#959bb8" stroke-width="0.6"/>
<path d="M100.6 75.2 h-1.0" stroke="#959bb8" stroke-width="0.4"/>
<text x="99.5" y="75.9" font-size="1.7" fill="#8e94ae" text-anchor="end">100</text>
<path d="M100.6 83.05 h-1.0" stroke="#959bb8" stroke-width="0.4"/>
<text x="99.5" y="83.75" font-size="1.7" fill="#8e94ae" text-anchor="end">75</text>
<path d="M100.6 90.9 h-1.0" stroke="#959bb8" stroke-width="0.4"/>
<text x="99.5" y="91.6" font-size="1.7" fill="#8e94ae" text-anchor="end">50</text>
<path d="M100.6 98.75 h-1.0" stroke="#959bb8" stroke-width="0.4"/>
<text x="99.5" y="99.45" font-size="1.7" fill="#8e94ae" text-anchor="end">25</text>
<path d="M100.6 106.6 h-1.0" stroke="#959bb8" stroke-width="0.4"/>
<text transform="translate(96.4 90.9) rotate(-90)" font-size="2.0" fill="#6a7090" text-anchor="middle">Count</text>
<text x="105.2" y="109.9" font-size="2.4" fill="#444" text-anchor="middle">-10³</text>
<path d="M105.2 106.6 v0.9" stroke="#959bb8" stroke-width="0.35"/>
<text x="108.39" y="109.9" font-size="2.4" fill="#444" text-anchor="middle">0</text>
<path d="M108.39 106.6 v0.9" stroke="#959bb8" stroke-width="0.35"/>
<text x="114.05" y="109.9" font-size="2.4" fill="#444" text-anchor="middle">10³</text>
<path d="M114.05 106.6 v0.9" stroke="#959bb8" stroke-width="0.35"/>
<text x="122.55" y="109.9" font-size="2.4" fill="#444" text-anchor="middle">10⁴</text>
<path d="M122.55 106.6 v0.9" stroke="#959bb8" stroke-width="0.35"/>
<text x="131.04" y="109.9" font-size="2.4" fill="#444" text-anchor="middle">10⁵</text>
<path d="M131.04 106.6 v0.9" stroke="#959bb8" stroke-width="0.35"/>
<text x="115.47" y="112.2" font-size="2.2" fill="#444" text-anchor="middle">CD32b</text>
<path d="M120.4 106.52 L120.65 106.46 L120.9 106.38 L121.15 106.26 L121.39 106.09 L121.64 105.83 L121.89 105.48 L122.14 104.99 L122.38 104.35 L122.63 103.51 L122.88 102.45 L123.13 101.14 L123.37 99.57 L123.62 97.74 L123.87 95.67 L124.12 93.39 L124.36 90.98 L124.61 88.51 L124.86 86.09 L125.11 83.84 L125.35 81.87 L125.6 80.29 L125.85 79.19 L126.1 78.65 L126.34 78.69 L126.59 79.25 L126.84 80.31 L127.09 81.79 L127.33 83.63 L127.58 85.74 L127.83 88 L128.08 90.33 L128.32 92.63 L128.57 94.84 L128.82 96.88 L129.07 98.71 L129.31 100.32 L129.56 101.7 L129.81 102.84 L130.06 103.78 L130.3 104.52 L130.55 105.09 L130.8 105.53 L131.05 105.85 L131.29 106.09 L131.54 106.26 L131.79 106.37 L132.04 106.45 L132.28 106.51 L132.28 106.6 L120.4 106.6 Z" fill="#0a0a0a" stroke="#0a0a0a" stroke-width="0.3"/>
<path d="M105.06 106.49 L105.31 106.41 L105.55 106.29 L105.8 106.12 L106.05 105.86 L106.3 105.48 L106.54 104.95 L106.79 104.24 L107.04 103.29 L107.29 102.08 L107.53 100.57 L107.78 98.73 L108.03 96.59 L108.28 94.16 L108.52 91.51 L108.77 88.72 L109.02 85.92 L109.27 83.25 L109.51 80.86 L109.76 78.89 L110.01 77.48 L110.26 76.72 L110.5 76.66 L110.75 77.27 L111 78.51 L111.25 80.3 L111.49 82.52 L111.74 85.05 L111.99 87.73 L112.24 90.45 L112.48 93.09 L112.73 95.55 L112.98 97.76 L113.23 99.68 L113.47 101.31 L113.72 102.65 L113.97 103.71 L114.22 104.53 L114.46 105.16 L114.71 105.61 L114.96 105.94 L115.21 106.17 L115.45 106.32 L115.7 106.43 L115.95 106.49" fill="none" stroke="#5a58c0" stroke-width="0.55"/>
<path d="M103.82 106.5 L104.07 106.44 L104.32 106.36 L104.56 106.25 L104.81 106.09 L105.06 105.88 L105.31 105.59 L105.55 105.2 L105.8 104.69 L106.05 104.05 L106.3 103.24 L106.54 102.25 L106.79 101.06 L107.04 99.65 L107.29 98.01 L107.53 96.17 L107.78 94.13 L108.03 91.94 L108.28 89.63 L108.52 87.27 L108.77 84.93 L109.02 82.71 L109.27 80.67 L109.51 78.91 L109.76 77.5 L110.01 76.51 L110.26 75.98 L110.5 75.94 L110.75 76.37 L111 77.25 L111.25 78.53 L111.49 80.17 L111.74 82.09 L111.99 84.21 L112.24 86.46 L112.48 88.76 L112.73 91.04 L112.98 93.23 L113.23 95.29 L113.47 97.18 L113.72 98.87 L113.97 100.35 L114.22 101.63 L114.46 102.7 L114.71 103.59 L114.96 104.32 L115.21 104.89 L115.45 105.34 L115.7 105.69 L115.95 105.95 L116.2 106.14 L116.44 106.28 L116.69 106.38 L116.94 106.45 L117.19 106.5" fill="none" stroke="#da5272" stroke-width="0.55"/>
<path d="M118.3 93.6 H133.9 M118.3 92.1 v3 M133.9 92.1 v3" fill="none" stroke="#8a2636" stroke-width="0.7"/>
<text x="121" y="88.7" font-size="2.1" fill="#a83040" text-anchor="middle">M1</text>
<text x="122" y="91" font-size="2.1" fill="#a83040" text-anchor="middle">99.1%</text>
<text x="156.4" y="79.9" font-size="4.3" font-weight="bold" fill="#d42840">Isotype ab</text>
<text x="156.4" y="85.7" font-size="4.3" font-weight="bold" fill="#20207c">FMO</text>
<text x="156.4" y="91.5" font-size="4.35" font-weight="bold" fill="#0a0a0a">CD32b ab</text>
<text x="21.6" y="127.1" font-size="7.45" fill="#111">CD32b<tspan font-size="4.8" dy="-2.5">+</tspan><tspan dy="2.5"> </tspan>MM cells &lt;50%</text>
<path d="M15.2 128.5 H105.7" stroke="#1a1a1a" stroke-width="0.8"/>
<text x="19.6" y="136.5" font-size="4.6" font-weight="bold" fill="#1a1a1a">#03 (DRR)</text>
<path d="M16.65 139 V171.4 H55.8" fill="none" stroke="#959bb8" stroke-width="0.6"/>
<path d="M16.65 139 h-1.0" stroke="#959bb8" stroke-width="0.4"/>
<text x="15.55" y="139.7" font-size="1.7" fill="#8e94ae" text-anchor="end">100</text>
<path d="M16.65 147.1 h-1.0" stroke="#959bb8" stroke-width="0.4"/>
<text x="15.55" y="147.8" font-size="1.7" fill="#8e94ae" text-anchor="end">75</text>
<path d="M16.65 155.2 h-1.0" stroke="#959bb8" stroke-width="0.4"/>
<text x="15.55" y="155.9" font-size="1.7" fill="#8e94ae" text-anchor="end">50</text>
<path d="M16.65 163.3 h-1.0" stroke="#959bb8" stroke-width="0.4"/>
<text x="15.55" y="164" font-size="1.7" fill="#8e94ae" text-anchor="end">25</text>
<path d="M16.65 171.4 h-1.0" stroke="#959bb8" stroke-width="0.4"/>
<text transform="translate(12.45 155.2) rotate(-90)" font-size="2.0" fill="#6a7090" text-anchor="middle">Count</text>
<text x="21.74" y="174.7" font-size="2.4" fill="#444" text-anchor="middle">-10³</text>
<path d="M21.74 171.4 v0.9" stroke="#959bb8" stroke-width="0.35"/>
<text x="25.26" y="174.7" font-size="2.4" fill="#444" text-anchor="middle">0</text>
<path d="M25.26 171.4 v0.9" stroke="#959bb8" stroke-width="0.35"/>
<text x="31.53" y="174.7" font-size="2.4" fill="#444" text-anchor="middle">10³</text>
<path d="M31.53 171.4 v0.9" stroke="#959bb8" stroke-width="0.35"/>
<text x="40.92" y="174.7" font-size="2.4" fill="#444" text-anchor="middle">10⁴</text>
<path d="M40.92 171.4 v0.9" stroke="#959bb8" stroke-width="0.35"/>
<text x="50.32" y="174.7" font-size="2.4" fill="#444" text-anchor="middle">10⁵</text>
<path d="M50.32 171.4 v0.9" stroke="#959bb8" stroke-width="0.35"/>
<text x="33.09" y="177" font-size="2.2" fill="#444" text-anchor="middle">CD32b</text>
<path d="M22.91 171.35 L23.19 171.25 L23.46 170.97 L23.74 170.27 L24.01 168.72 L24.29 165.77 L24.56 160.99 L24.83 154.48 L25.11 147.22 L25.38 141.02 L25.66 137.77 L25.93 137.72 L26.21 139.51 L26.48 142.76 L26.76 146.95 L27.03 151.48 L27.31 155.73 L27.58 159.29 L27.85 162.04 L28.13 164.03 L28.4 165.4 L28.68 166.33 L28.95 166.96 L29.23 167.42 L29.5 167.79 L29.78 168.11 L30.05 168.41 L30.32 168.69 L30.6 168.96 L30.87 169.23 L31.15 169.48 L31.42 169.71 L31.7 169.93 L31.97 170.13 L32.25 170.32 L32.52 170.48 L32.79 170.63 L33.07 170.75 L33.34 170.87 L33.62 170.96 L33.89 171.04 L34.17 171.11 L34.44 171.17 L34.72 171.22 L34.99 171.26 L35.26 171.29 L35.26 171.4 L22.91 171.4 Z" fill="#0a0a0a" stroke="#0a0a0a" stroke-width="0.3"/>
<path d="M23.19 171.28 L23.46 171.03 L23.74 170.37 L24.01 168.9 L24.29 166.07 L24.56 161.47 L24.83 155.2 L25.11 148.3 L25.38 142.58 L25.66 139.95 L25.93 140.49 L26.21 142.59 L26.48 145.92 L26.76 150.01 L27.03 154.37 L27.31 158.52 L27.58 162.16 L27.85 165.11 L28.13 167.34 L28.4 168.91 L28.68 169.95 L28.95 170.6 L29.23 170.98 L29.5 171.19 L29.78 171.3" fill="none" stroke="#da5272" stroke-width="0.55"/>
<path d="M29.4 155 H51.7 M29.4 153.5 v3 M51.7 153.5 v3" fill="none" stroke="#8a2636" stroke-width="0.7"/>
<text x="42.5" y="150.1" font-size="2.1" fill="#a83040" text-anchor="middle">M1</text>
<text x="43.5" y="152.4" font-size="2.1" fill="#a83040" text-anchor="middle">2.06%</text>
<text x="61.6" y="136.5" font-size="4.6" font-weight="bold" fill="#1a1a1a">#10</text>
<path d="M58.5 139 V171.4 H96" fill="none" stroke="#959bb8" stroke-width="0.6"/>
<path d="M58.5 139 h-1.0" stroke="#959bb8" stroke-width="0.4"/>
<text x="57.4" y="139.7" font-size="1.7" fill="#8e94ae" text-anchor="end">100</text>
<path d="M58.5 147.1 h-1.0" stroke="#959bb8" stroke-width="0.4"/>
<text x="57.4" y="147.8" font-size="1.7" fill="#8e94ae" text-anchor="end">75</text>
<path d="M58.5 155.2 h-1.0" stroke="#959bb8" stroke-width="0.4"/>
<text x="57.4" y="155.9" font-size="1.7" fill="#8e94ae" text-anchor="end">50</text>
<path d="M58.5 163.3 h-1.0" stroke="#959bb8" stroke-width="0.4"/>
<text x="57.4" y="164" font-size="1.7" fill="#8e94ae" text-anchor="end">25</text>
<path d="M58.5 171.4 h-1.0" stroke="#959bb8" stroke-width="0.4"/>
<text transform="translate(54.3 155.2) rotate(-90)" font-size="2.0" fill="#6a7090" text-anchor="middle">Count</text>
<text x="63.38" y="174.7" font-size="2.4" fill="#444" text-anchor="middle">-10³</text>
<path d="M63.38 171.4 v0.9" stroke="#959bb8" stroke-width="0.35"/>
<text x="66.75" y="174.7" font-size="2.4" fill="#444" text-anchor="middle">0</text>
<path d="M66.75 171.4 v0.9" stroke="#959bb8" stroke-width="0.35"/>
<text x="72.75" y="174.7" font-size="2.4" fill="#444" text-anchor="middle">10³</text>
<path d="M72.75 171.4 v0.9" stroke="#959bb8" stroke-width="0.35"/>
<text x="81.75" y="174.7" font-size="2.4" fill="#444" text-anchor="middle">10⁴</text>
<path d="M81.75 171.4 v0.9" stroke="#959bb8" stroke-width="0.35"/>
<text x="90.75" y="174.7" font-size="2.4" fill="#444" text-anchor="middle">10⁵</text>
<path d="M90.75 171.4 v0.9" stroke="#959bb8" stroke-width="0.35"/>
<text x="74.25" y="177" font-size="2.2" fill="#444" text-anchor="middle">CD32b</text>
<path d="M72.65 171.31 L72.92 171.27 L73.18 171.23 L73.44 171.18 L73.71 171.12 L73.97 171.04 L74.23 170.95 L74.49 170.84 L74.76 170.72 L75.02 170.57 L75.28 170.4 L75.54 170.18 L75.81 169.85 L76.07 169.27 L76.33 168.23 L76.59 166.36 L76.86 163.3 L77.12 158.82 L77.38 153.08 L77.64 146.86 L77.91 141.47 L78.17 138.32 L78.43 138.27 L78.69 141.1 L78.96 146.01 L79.22 151.84 L79.48 157.45 L79.74 162.07 L80.01 165.43 L80.27 167.61 L80.53 168.92 L80.79 169.67 L81.06 170.1 L81.32 170.37 L81.58 170.56 L81.85 170.71 L82.11 170.84 L82.37 170.95 L82.63 171.04 L82.9 171.12 L83.16 171.18 L83.42 171.23 L83.68 171.27 L83.95 171.31 L83.95 171.4 L72.65 171.4 Z" fill="#0a0a0a" stroke="#0a0a0a" stroke-width="0.3"/>
<path d="M75.28 171.29 L75.54 171.12 L75.81 170.73 L76.07 169.97 L76.33 168.57 L76.59 166.26 L76.86 162.84 L77.12 158.3 L77.38 152.99 L77.64 147.63 L77.91 143.23 L78.17 140.73 L78.43 140.73 L78.69 143.24 L78.96 147.65 L79.22 153 L79.48 158.31 L79.74 162.85 L80.01 166.27 L80.27 168.57 L80.53 169.97 L80.79 170.74 L81.06 171.12 L81.32 171.29" fill="none" stroke="#da5272" stroke-width="0.55"/>
<path d="M75.02 171.32 L75.28 171.2 L75.54 170.93 L75.81 170.38 L76.07 169.37 L76.33 167.67 L76.59 165.02 L76.86 161.32 L77.12 156.63 L77.38 151.35 L77.64 146.19 L77.91 142.03 L78.17 139.7 L78.43 139.74 L78.69 142.33 L78.96 146.88 L79.22 152.41 L79.48 157.89 L79.74 162.58 L80.01 166.11 L80.27 168.48 L80.53 169.92 L80.79 170.71 L81.06 171.11 L81.32 171.29" fill="none" stroke="#5a58c0" stroke-width="0.55"/>
<path d="M82.5 158.5 H94 M82.5 157 v3 M94 157 v3" fill="none" stroke="#8a2636" stroke-width="0.7"/>
<text x="87.5" y="153.6" font-size="2.1" fill="#a83040" text-anchor="middle">M1</text>
<text x="88.5" y="155.9" font-size="2.1" fill="#a83040" text-anchor="middle">1.42%</text>
<text x="102.6" y="136.5" font-size="4.6" font-weight="bold" fill="#1a1a1a">#13</text>
<path d="M100.15 139 V171.4 H136" fill="none" stroke="#959bb8" stroke-width="0.6"/>
<path d="M100.15 139 h-1.0" stroke="#959bb8" stroke-width="0.4"/>
<text x="99.05" y="139.7" font-size="1.7" fill="#8e94ae" text-anchor="end">100</text>
<path d="M100.15 147.1 h-1.0" stroke="#959bb8" stroke-width="0.4"/>
<text x="99.05" y="147.8" font-size="1.7" fill="#8e94ae" text-anchor="end">75</text>
<path d="M100.15 155.2 h-1.0" stroke="#959bb8" stroke-width="0.4"/>
<text x="99.05" y="155.9" font-size="1.7" fill="#8e94ae" text-anchor="end">50</text>
<path d="M100.15 163.3 h-1.0" stroke="#959bb8" stroke-width="0.4"/>
<text x="99.05" y="164" font-size="1.7" fill="#8e94ae" text-anchor="end">25</text>
<path d="M100.15 171.4 h-1.0" stroke="#959bb8" stroke-width="0.4"/>
<text transform="translate(95.95 155.2) rotate(-90)" font-size="2.0" fill="#6a7090" text-anchor="middle">Count</text>
<text x="104.81" y="174.7" font-size="2.4" fill="#444" text-anchor="middle">-10³</text>
<path d="M104.81 171.4 v0.9" stroke="#959bb8" stroke-width="0.35"/>
<text x="108.04" y="174.7" font-size="2.4" fill="#444" text-anchor="middle">0</text>
<path d="M108.04 171.4 v0.9" stroke="#959bb8" stroke-width="0.35"/>
<text x="113.77" y="174.7" font-size="2.4" fill="#444" text-anchor="middle">10³</text>
<path d="M113.77 171.4 v0.9" stroke="#959bb8" stroke-width="0.35"/>
<text x="122.38" y="174.7" font-size="2.4" fill="#444" text-anchor="middle">10⁴</text>
<path d="M122.38 171.4 v0.9" stroke="#959bb8" stroke-width="0.35"/>
<text x="130.98" y="174.7" font-size="2.4" fill="#444" text-anchor="middle">10⁵</text>
<path d="M130.98 171.4 v0.9" stroke="#959bb8" stroke-width="0.35"/>
<text x="115.21" y="177" font-size="2.2" fill="#444" text-anchor="middle">CD32b</text>
<path d="M108.42 171.29 L108.67 171.25 L108.92 171.21 L109.17 171.15 L109.43 171.08 L109.68 171 L109.93 170.9 L110.18 170.78 L110.43 170.64 L110.68 170.47 L110.93 170.27 L111.18 170.05 L111.43 169.8 L111.68 169.52 L111.93 169.21 L112.18 168.87 L112.43 168.49 L112.68 168.05 L112.94 167.54 L113.19 166.88 L113.44 166 L113.69 164.73 L113.94 162.93 L114.19 160.43 L114.44 157.14 L114.69 153.12 L114.94 148.64 L115.19 144.21 L115.44 140.46 L115.69 138.05 L115.94 137.43 L116.19 138.72 L116.45 141.68 L116.7 145.77 L116.95 150.32 L117.2 154.73 L117.45 158.56 L117.7 161.62 L117.95 163.91 L118.2 165.54 L118.45 166.69 L118.7 167.51 L118.95 168.13 L119.2 168.62 L119.45 169.04 L119.7 169.4 L119.96 169.72 L120.21 170 L120.46 170.25 L120.71 170.46 L120.96 170.64 L121.21 170.79 L121.46 170.92 L121.71 171.03 L121.96 171.11 L122.21 171.18 L122.46 171.23 L122.71 171.28 L122.96 171.31 L122.96 171.4 L108.42 171.4 Z" fill="#0a0a0a" stroke="#0a0a0a" stroke-width="0.3"/>
<path d="M108.17 171.3 L108.42 171.27 L108.67 171.23 L108.92 171.19 L109.17 171.13 L109.43 171.06 L109.68 170.98 L109.93 170.88 L110.18 170.77 L110.43 170.63 L110.68 170.48 L110.93 170.3 L111.18 170.1 L111.43 169.87 L111.68 169.63 L111.93 169.35 L112.18 169.05 L112.43 168.7 L112.68 168.29 L112.94 167.77 L113.19 167.08 L113.44 166.1 L113.69 164.69 L113.94 162.71 L114.19 160.02 L114.44 156.58 L114.69 152.5 L114.94 148.09 L115.19 143.81 L115.44 140.27 L115.69 138.01 L115.94 137.43 L116.19 138.63 L116.45 141.41 L116.7 145.3 L116.95 149.71 L117.2 154.09 L117.45 158 L117.7 161.22 L117.95 163.69 L118.2 165.48 L118.45 166.75 L118.7 167.65 L118.95 168.29 L119.2 168.77 L119.45 169.17 L119.7 169.5 L119.96 169.78 L120.21 170.04 L120.46 170.26 L120.71 170.46 L120.96 170.63 L121.21 170.77 L121.46 170.89 L121.71 171 L121.96 171.08 L122.21 171.15 L122.46 171.21 L122.71 171.25 L122.96 171.29" fill="none" stroke="#da5272" stroke-width="0.55"/>
<path d="M108.17 171.29 L108.42 171.26 L108.67 171.22 L108.92 171.17 L109.17 171.11 L109.43 171.03 L109.68 170.94 L109.93 170.84 L110.18 170.71 L110.43 170.57 L110.68 170.4 L110.93 170.21 L111.18 169.99 L111.43 169.74 L111.68 169.47 L111.93 169.17 L112.18 168.83 L112.43 168.43 L112.68 167.94 L112.94 167.32 L113.19 166.49 L113.44 165.33 L113.69 163.71 L113.94 161.52 L114.19 158.66 L114.44 155.14 L114.69 151.1 L114.94 146.85 L115.19 142.82 L115.44 139.53 L115.69 137.46 L115.94 136.93 L116.19 138.13 L116.45 140.92 L116.7 144.82 L116.95 149.26 L117.2 153.65 L117.45 157.59 L117.7 160.83 L117.95 163.33 L118.2 165.16 L118.45 166.46 L118.7 167.38 L118.95 168.05 L119.2 168.57 L119.45 168.98 L119.7 169.34 L119.96 169.65 L120.21 169.92 L120.46 170.16 L120.71 170.38 L120.96 170.56 L121.21 170.72 L121.46 170.85 L121.71 170.96 L121.96 171.06 L122.21 171.13 L122.46 171.19 L122.71 171.24 L122.96 171.28 L123.21 171.31" fill="none" stroke="#5a58c0" stroke-width="0.55"/>
<path d="M121.5 155 H134.3 M121.5 153.5 v3 M134.3 153.5 v3" fill="none" stroke="#8a2636" stroke-width="0.7"/>
<text x="127" y="150.1" font-size="2.1" fill="#a83040" text-anchor="middle">M1</text>
<text x="128" y="152.4" font-size="2.1" fill="#a83040" text-anchor="middle">4.35%</text>
<text x="143" y="136.5" font-size="4.6" font-weight="bold" fill="#1a1a1a">#15</text>
<path d="M140.5 139 V171.4 H177" fill="none" stroke="#959bb8" stroke-width="0.6"/>
<path d="M140.5 139 h-1.0" stroke="#959bb8" stroke-width="0.4"/>
<text x="139.4" y="139.7" font-size="1.7" fill="#8e94ae" text-anchor="end">100</text>
<path d="M140.5 147.1 h-1.0" stroke="#959bb8" stroke-width="0.4"/>
<text x="139.4" y="147.8" font-size="1.7" fill="#8e94ae" text-anchor="end">75</text>
<path d="M140.5 155.2 h-1.0" stroke="#959bb8" stroke-width="0.4"/>
<text x="139.4" y="155.9" font-size="1.7" fill="#8e94ae" text-anchor="end">50</text>
<path d="M140.5 163.3 h-1.0" stroke="#959bb8" stroke-width="0.4"/>
<text x="139.4" y="164" font-size="1.7" fill="#8e94ae" text-anchor="end">25</text>
<path d="M140.5 171.4 h-1.0" stroke="#959bb8" stroke-width="0.4"/>
<text transform="translate(136.3 155.2) rotate(-90)" font-size="2.0" fill="#6a7090" text-anchor="middle">Count</text>
<text x="145.25" y="174.7" font-size="2.4" fill="#444" text-anchor="middle">-10³</text>
<path d="M145.25 171.4 v0.9" stroke="#959bb8" stroke-width="0.35"/>
<text x="148.53" y="174.7" font-size="2.4" fill="#444" text-anchor="middle">0</text>
<path d="M148.53 171.4 v0.9" stroke="#959bb8" stroke-width="0.35"/>
<text x="154.37" y="174.7" font-size="2.4" fill="#444" text-anchor="middle">10³</text>
<path d="M154.37 171.4 v0.9" stroke="#959bb8" stroke-width="0.35"/>
<text x="163.13" y="174.7" font-size="2.4" fill="#444" text-anchor="middle">10⁴</text>
<path d="M163.13 171.4 v0.9" stroke="#959bb8" stroke-width="0.35"/>
<text x="171.89" y="174.7" font-size="2.4" fill="#444" text-anchor="middle">10⁵</text>
<path d="M171.89 171.4 v0.9" stroke="#959bb8" stroke-width="0.35"/>
<text x="155.83" y="177" font-size="2.2" fill="#444" text-anchor="middle">CD32b</text>
<path d="M149.17 171.3 L149.43 171.26 L149.68 171.22 L149.94 171.16 L150.19 171.09 L150.45 171 L150.71 170.89 L150.96 170.75 L151.22 170.59 L151.47 170.39 L151.73 170.15 L151.98 169.83 L152.24 169.4 L152.49 168.79 L152.75 167.93 L153 166.7 L153.26 164.96 L153.51 162.61 L153.77 159.59 L154.03 155.93 L154.28 151.8 L154.54 147.53 L154.79 143.54 L155.05 140.35 L155.3 138.38 L155.56 137.94 L155.81 139.1 L156.07 141.67 L156.32 145.3 L156.58 149.49 L156.83 153.76 L157.09 157.73 L157.35 161.13 L157.6 163.87 L157.86 165.94 L158.11 167.44 L158.37 168.5 L158.62 169.24 L158.88 169.76 L159.13 170.13 L159.39 170.4 L159.64 170.61 L159.9 170.78 L160.15 170.92 L160.41 171.03 L160.67 171.11 L160.92 171.18 L161.18 171.24 L161.43 171.28 L161.43 171.4 L149.17 171.4 Z" fill="#0a0a0a" stroke="#0a0a0a" stroke-width="0.3"/>
<path d="M149.17 171.3 L149.43 171.26 L149.68 171.22 L149.94 171.16 L150.19 171.09 L150.45 171 L150.71 170.89 L150.96 170.75 L151.22 170.59 L151.47 170.39 L151.73 170.15 L151.98 169.83 L152.24 169.4 L152.49 168.81 L152.75 167.95 L153 166.73 L153.26 165.02 L153.51 162.71 L153.77 159.74 L154.03 156.14 L154.28 152.07 L154.54 147.87 L154.79 143.95 L155.05 140.81 L155.3 138.87 L155.56 138.44 L155.81 139.58 L156.07 142.11 L156.32 145.67 L156.58 149.8 L156.83 154 L157.09 157.91 L157.35 161.26 L157.6 163.95 L157.86 165.99 L158.11 167.47 L158.37 168.52 L158.62 169.25 L158.88 169.76 L159.13 170.13 L159.39 170.4 L159.64 170.61 L159.9 170.78 L160.15 170.92 L160.41 171.03 L160.67 171.11 L160.92 171.18 L161.18 171.24 L161.43 171.28" fill="none" stroke="#da5272" stroke-width="0.55"/>
<path d="M160.8 154.7 H174.3 M160.8 153.2 v3 M174.3 153.2 v3" fill="none" stroke="#8a2636" stroke-width="0.7"/>
<text x="167" y="149.8" font-size="2.1" fill="#a83040" text-anchor="middle">M1</text>
<text x="168" y="152.1" font-size="2.1" fill="#a83040" text-anchor="middle">0.51%</text>
<text x="184" y="136.5" font-size="4.6" font-weight="bold" fill="#1a1a1a">#16</text>
<path d="M181 139 V171.4 H216" fill="none" stroke="#959bb8" stroke-width="0.6"/>
<path d="M181 139 h-1.0" stroke="#959bb8" stroke-width="0.4"/>
<text x="179.9" y="139.7" font-size="1.7" fill="#8e94ae" text-anchor="end">100</text>
<path d="M181 147.1 h-1.0" stroke="#959bb8" stroke-width="0.4"/>
<text x="179.9" y="147.8" font-size="1.7" fill="#8e94ae" text-anchor="end">75</text>
<path d="M181 155.2 h-1.0" stroke="#959bb8" stroke-width="0.4"/>
<text x="179.9" y="155.9" font-size="1.7" fill="#8e94ae" text-anchor="end">50</text>
<path d="M181 163.3 h-1.0" stroke="#959bb8" stroke-width="0.4"/>
<text x="179.9" y="164" font-size="1.7" fill="#8e94ae" text-anchor="end">25</text>
<path d="M181 171.4 h-1.0" stroke="#959bb8" stroke-width="0.4"/>
<text transform="translate(176.8 155.2) rotate(-90)" font-size="2.0" fill="#6a7090" text-anchor="middle">Count</text>
<text x="185.55" y="174.7" font-size="2.4" fill="#444" text-anchor="middle">-10³</text>
<path d="M185.55 171.4 v0.9" stroke="#959bb8" stroke-width="0.35"/>
<text x="188.7" y="174.7" font-size="2.4" fill="#444" text-anchor="middle">0</text>
<path d="M188.7 171.4 v0.9" stroke="#959bb8" stroke-width="0.35"/>
<text x="194.3" y="174.7" font-size="2.4" fill="#444" text-anchor="middle">10³</text>
<path d="M194.3 171.4 v0.9" stroke="#959bb8" stroke-width="0.35"/>
<text x="202.7" y="174.7" font-size="2.4" fill="#444" text-anchor="middle">10⁴</text>
<path d="M202.7 171.4 v0.9" stroke="#959bb8" stroke-width="0.35"/>
<text x="211.1" y="174.7" font-size="2.4" fill="#444" text-anchor="middle">10⁵</text>
<path d="M211.1 171.4 v0.9" stroke="#959bb8" stroke-width="0.35"/>
<text x="195.7" y="177" font-size="2.2" fill="#444" text-anchor="middle">CD32b</text>
<path d="M186.15 171.3 L186.39 171.24 L186.64 171.13 L186.88 170.92 L187.13 170.5 L187.37 169.71 L187.62 168.37 L187.86 166.35 L188.1 163.72 L188.35 160.86 L188.59 158.4 L188.84 157.03 L189.08 157.01 L189.33 158.02 L189.57 159.68 L189.82 161.48 L190.06 162.97 L190.31 163.86 L190.55 164.11 L190.79 163.86 L191.04 163.35 L191.28 162.85 L191.53 162.6 L191.77 162.66 L192.02 162.98 L192.26 163.48 L192.51 164.04 L192.75 164.53 L193 164.86 L193.24 164.99 L193.49 164.89 L193.73 164.63 L193.97 164.26 L194.22 163.86 L194.46 163.51 L194.71 163.26 L194.95 163.17 L195.2 163.21 L195.44 163.31 L195.69 163.48 L195.93 163.71 L196.18 164 L196.42 164.34 L196.67 164.72 L196.91 165.14 L197.15 165.58 L197.4 166.04 L197.64 166.51 L197.89 166.98 L198.13 167.43 L198.38 167.87 L198.62 168.29 L198.87 168.69 L199.11 169.05 L199.36 169.39 L199.6 169.69 L199.85 169.96 L200.09 170.19 L200.33 170.4 L200.58 170.58 L200.82 170.73 L201.07 170.86 L201.31 170.97 L201.56 171.06 L201.8 171.13 L202.05 171.19 L202.29 171.24 L202.54 171.28 L202.78 171.31 L202.78 171.4 L186.15 171.4 Z" fill="#0a0a0a" stroke="#0a0a0a" stroke-width="0.3"/>
<path d="M183.95 171.32 L184.19 171.23 L184.44 171.08 L184.68 170.8 L184.92 170.34 L185.17 169.61 L185.41 168.5 L185.66 166.91 L185.9 164.76 L186.15 162.01 L186.39 158.73 L186.64 155.11 L186.88 151.51 L187.13 148.39 L187.37 146.13 L187.62 144.86 L187.86 144.41 L188.1 144.63 L188.35 145.61 L188.59 147.53 L188.84 150.41 L189.08 153.9 L189.33 157.56 L189.57 160.98 L189.82 163.92 L190.06 166.27 L190.31 168.04 L190.55 169.29 L190.79 170.14 L191.04 170.68 L191.28 171 L191.53 171.19 L191.77 171.3" fill="none" stroke="#5a58c0" stroke-width="0.55"/>
<path d="M192 160.1 H214.6 M192 158.6 v3 M214.6 158.6 v3" fill="none" stroke="#8a2636" stroke-width="0.7"/>
<text x="199" y="155.2" font-size="2.1" fill="#a83040" text-anchor="middle">M1</text>
<text x="200" y="157.5" font-size="2.1" fill="#a83040" text-anchor="middle">37.6%</text>
<text x="19.9" y="190" font-size="4.6" font-weight="bold" fill="#1a1a1a">#19 (DRR)</text>
<path d="M16.65 191.6 V223 H52.5" fill="none" stroke="#959bb8" stroke-width="0.6"/>
<path d="M16.65 191.6 h-1.0" stroke="#959bb8" stroke-width="0.4"/>
<text x="15.55" y="192.3" font-size="1.7" fill="#8e94ae" text-anchor="end">100</text>
<path d="M16.65 199.45 h-1.0" stroke="#959bb8" stroke-width="0.4"/>
<text x="15.55" y="200.15" font-size="1.7" fill="#8e94ae" text-anchor="end">75</text>
<path d="M16.65 207.3 h-1.0" stroke="#959bb8" stroke-width="0.4"/>
<text x="15.55" y="208" font-size="1.7" fill="#8e94ae" text-anchor="end">50</text>
<path d="M16.65 215.15 h-1.0" stroke="#959bb8" stroke-width="0.4"/>
<text x="15.55" y="215.85" font-size="1.7" fill="#8e94ae" text-anchor="end">25</text>
<path d="M16.65 223 h-1.0" stroke="#959bb8" stroke-width="0.4"/>
<text transform="translate(12.45 207.3) rotate(-90)" font-size="2.0" fill="#6a7090" text-anchor="middle">Count</text>
<text x="21.31" y="226.3" font-size="2.4" fill="#444" text-anchor="middle">-10³</text>
<path d="M21.31 223 v0.9" stroke="#959bb8" stroke-width="0.35"/>
<text x="24.54" y="226.3" font-size="2.4" fill="#444" text-anchor="middle">0</text>
<path d="M24.54 223 v0.9" stroke="#959bb8" stroke-width="0.35"/>
<text x="30.27" y="226.3" font-size="2.4" fill="#444" text-anchor="middle">10³</text>
<path d="M30.27 223 v0.9" stroke="#959bb8" stroke-width="0.35"/>
<text x="38.88" y="226.3" font-size="2.4" fill="#444" text-anchor="middle">10⁴</text>
<path d="M38.88 223 v0.9" stroke="#959bb8" stroke-width="0.35"/>
<text x="47.48" y="226.3" font-size="2.4" fill="#444" text-anchor="middle">10⁵</text>
<path d="M47.48 223 v0.9" stroke="#959bb8" stroke-width="0.35"/>
<text x="31.71" y="228.6" font-size="2.2" fill="#444" text-anchor="middle">CD32b</text>
<path d="M27.68 222.89 L27.93 222.86 L28.18 222.81 L28.43 222.75 L28.68 222.68 L28.93 222.59 L29.18 222.48 L29.44 222.34 L29.69 222.18 L29.94 221.99 L30.19 221.76 L30.44 221.5 L30.69 221.19 L30.94 220.85 L31.19 220.46 L31.44 220.03 L31.69 219.54 L31.94 218.98 L32.19 218.29 L32.44 217.41 L32.69 216.21 L32.95 214.51 L33.2 212.17 L33.45 209.1 L33.7 205.41 L33.95 201.44 L34.2 197.79 L34.45 195.11 L34.7 193.96 L34.95 194.39 L35.2 196.1 L35.45 198.75 L35.7 201.84 L35.95 204.91 L36.2 207.62 L36.46 209.8 L36.71 211.41 L36.96 212.53 L37.21 213.24 L37.46 213.66 L37.71 213.86 L37.96 213.88 L38.21 213.77 L38.46 213.55 L38.71 213.28 L38.96 213.01 L39.21 212.81 L39.46 212.74 L39.71 212.87 L39.97 213.23 L40.22 213.68 L40.47 214.18 L40.72 214.72 L40.97 215.29 L41.22 215.88 L41.47 216.49 L41.72 217.1 L41.97 217.71 L42.22 218.29 L42.47 218.86 L42.72 219.39 L42.97 219.89 L43.22 220.35 L43.48 220.76 L43.73 221.13 L43.98 221.45 L44.23 221.74 L44.48 221.98 L44.73 222.18 L44.98 222.35 L45.23 222.49 L45.48 222.61 L45.73 222.7 L45.98 222.77 L46.23 222.83 L46.48 222.87 L46.73 222.91 L46.73 223 L27.68 223 Z" fill="#0a0a0a" stroke="#0a0a0a" stroke-width="0.3"/>
<path d="M25.93 222.9 L26.18 222.88 L26.43 222.84 L26.68 222.8 L26.93 222.76 L27.18 222.7 L27.43 222.63 L27.68 222.55 L27.93 222.45 L28.18 222.34 L28.43 222.21 L28.68 222.06 L28.93 221.9 L29.18 221.71 L29.44 221.5 L29.69 221.27 L29.94 221.02 L30.19 220.74 L30.44 220.45 L30.69 220.13 L30.94 219.79 L31.19 219.42 L31.44 219 L31.69 218.51 L31.94 217.88 L32.19 217.03 L32.44 215.84 L32.69 214.19 L32.95 211.95 L33.2 209.08 L33.45 205.64 L33.7 201.86 L33.95 198.12 L34.2 194.93 L34.45 192.76 L34.7 192 L34.95 192.64 L35.2 194.46 L35.45 197.2 L35.7 200.5 L35.95 203.99 L36.2 207.32 L36.46 210.26 L36.71 212.7 L36.96 214.62 L37.21 216.06 L37.46 217.14 L37.71 217.93 L37.96 218.54 L38.21 219.02 L38.46 219.42 L38.71 219.78 L38.96 220.1 L39.21 220.41 L39.46 220.69 L39.71 220.95 L39.97 221.19 L40.22 221.42 L40.47 221.62 L40.72 221.81 L40.97 221.97 L41.22 222.12 L41.47 222.25 L41.72 222.37 L41.97 222.47 L42.22 222.56 L42.47 222.63 L42.72 222.7 L42.97 222.75 L43.22 222.8 L43.48 222.84 L43.73 222.87 L43.98 222.9" fill="none" stroke="#da5272" stroke-width="0.55"/>
<path d="M26.68 222.9 L26.93 222.87 L27.18 222.84 L27.43 222.79 L27.68 222.74 L27.93 222.68 L28.18 222.61 L28.43 222.52 L28.68 222.42 L28.93 222.31 L29.18 222.18 L29.44 222.03 L29.69 221.86 L29.94 221.67 L30.19 221.47 L30.44 221.24 L30.69 220.99 L30.94 220.7 L31.19 220.35 L31.44 219.92 L31.69 219.36 L31.94 218.58 L32.19 217.5 L32.44 216.01 L32.69 214 L32.95 211.43 L33.2 208.3 L33.45 204.75 L33.7 201.04 L33.95 197.51 L34.2 194.59 L34.45 192.67 L34.7 192.01 L34.95 192.74 L35.2 194.75 L35.45 197.75 L35.7 201.35 L35.95 205.15 L36.2 208.77 L36.46 211.95 L36.71 214.58 L36.96 216.63 L37.21 218.16 L37.46 219.26 L37.71 220.05 L37.96 220.61 L38.21 221.03 L38.46 221.36 L38.71 221.62 L38.96 221.84 L39.21 222.03 L39.46 222.19 L39.71 222.33 L39.97 222.45 L40.22 222.55 L40.47 222.64 L40.72 222.71 L40.97 222.77 L41.22 222.82 L41.47 222.86 L41.72 222.89" fill="none" stroke="#5a58c0" stroke-width="0.55"/>
<path d="M39.2 209.3 H51 M39.2 207.8 v3 M51 207.8 v3" fill="none" stroke="#8a2636" stroke-width="0.7"/>
<text x="43" y="204.4" font-size="2.1" fill="#a83040" text-anchor="middle">M1</text>
<text x="44" y="206.7" font-size="2.1" fill="#a83040" text-anchor="middle">14.0%</text>
<text x="61.6" y="190" font-size="4.6" font-weight="bold" fill="#1a1a1a">#20 (DRR)</text>
<path d="M58.8 191.6 V223 H94" fill="none" stroke="#959bb8" stroke-width="0.6"/>
<path d="M58.8 191.6 h-1.0" stroke="#959bb8" stroke-width="0.4"/>
<text x="57.7" y="192.3" font-size="1.7" fill="#8e94ae" text-anchor="end">100</text>
<path d="M58.8 199.45 h-1.0" stroke="#959bb8" stroke-width="0.4"/>
<text x="57.7" y="200.15" font-size="1.7" fill="#8e94ae" text-anchor="end">75</text>
<path d="M58.8 207.3 h-1.0" stroke="#959bb8" stroke-width="0.4"/>
<text x="57.7" y="208" font-size="1.7" fill="#8e94ae" text-anchor="end">50</text>
<path d="M58.8 215.15 h-1.0" stroke="#959bb8" stroke-width="0.4"/>
<text x="57.7" y="215.85" font-size="1.7" fill="#8e94ae" text-anchor="end">25</text>
<path d="M58.8 223 h-1.0" stroke="#959bb8" stroke-width="0.4"/>
<text transform="translate(54.6 207.3) rotate(-90)" font-size="2.0" fill="#6a7090" text-anchor="middle">Count</text>
<text x="63.38" y="226.3" font-size="2.4" fill="#444" text-anchor="middle">-10³</text>
<path d="M63.38 223 v0.9" stroke="#959bb8" stroke-width="0.35"/>
<text x="66.54" y="226.3" font-size="2.4" fill="#444" text-anchor="middle">0</text>
<path d="M66.54 223 v0.9" stroke="#959bb8" stroke-width="0.35"/>
<text x="72.18" y="226.3" font-size="2.4" fill="#444" text-anchor="middle">10³</text>
<path d="M72.18 223 v0.9" stroke="#959bb8" stroke-width="0.35"/>
<text x="80.62" y="226.3" font-size="2.4" fill="#444" text-anchor="middle">10⁴</text>
<path d="M80.62 223 v0.9" stroke="#959bb8" stroke-width="0.35"/>
<text x="89.07" y="226.3" font-size="2.4" fill="#444" text-anchor="middle">10⁵</text>
<path d="M89.07 223 v0.9" stroke="#959bb8" stroke-width="0.35"/>
<text x="73.58" y="228.6" font-size="2.2" fill="#444" text-anchor="middle">CD32b</text>
<path d="M67.67 222.89 L67.91 222.86 L68.16 222.82 L68.4 222.78 L68.65 222.73 L68.9 222.66 L69.14 222.59 L69.39 222.51 L69.63 222.41 L69.88 222.29 L70.13 222.16 L70.37 222.01 L70.62 221.84 L70.86 221.65 L71.11 221.42 L71.36 221.17 L71.6 220.86 L71.85 220.49 L72.09 220.04 L72.34 219.46 L72.59 218.72 L72.83 217.77 L73.08 216.54 L73.32 214.98 L73.57 213.06 L73.82 210.77 L74.06 208.13 L74.31 205.24 L74.55 202.24 L74.8 199.31 L75.05 196.67 L75.29 194.55 L75.54 193.14 L75.78 192.56 L76.03 192.79 L76.28 193.68 L76.52 195.16 L76.77 197.11 L77.02 199.4 L77.26 201.88 L77.51 204.4 L77.75 206.86 L78 209.16 L78.25 211.22 L78.49 213.02 L78.74 214.55 L78.98 215.83 L79.23 216.87 L79.48 217.72 L79.72 218.41 L79.97 218.98 L80.21 219.45 L80.46 219.84 L80.71 220.18 L80.95 220.49 L81.2 220.76 L81.44 221 L81.69 221.22 L81.94 221.43 L82.18 221.61 L82.43 221.78 L82.67 221.94 L82.92 222.08 L83.17 222.2 L83.41 222.31 L83.66 222.41 L83.9 222.5 L84.15 222.58 L84.4 222.64 L84.64 222.7 L84.89 222.75 L85.13 222.79 L85.38 222.83 L85.63 222.86 L85.87 222.89 L85.87 223 L67.67 223 Z" fill="#0a0a0a" stroke="#0a0a0a" stroke-width="0.3"/>
<path d="M66.68 222.89 L66.93 222.86 L67.17 222.83 L67.42 222.79 L67.67 222.75 L67.91 222.7 L68.16 222.64 L68.4 222.57 L68.65 222.49 L68.9 222.4 L69.14 222.3 L69.39 222.19 L69.63 222.06 L69.88 221.91 L70.13 221.74 L70.37 221.54 L70.62 221.31 L70.86 221.03 L71.11 220.69 L71.36 220.27 L71.6 219.73 L71.85 219.05 L72.09 218.19 L72.34 217.1 L72.59 215.76 L72.83 214.12 L73.08 212.18 L73.32 209.95 L73.57 207.46 L73.82 204.8 L74.06 202.05 L74.31 199.37 L74.55 196.9 L74.8 194.8 L75.05 193.21 L75.29 192.26 L75.54 192.01 L75.78 192.48 L76.03 193.65 L76.28 195.41 L76.52 197.64 L76.77 200.2 L77.02 202.92 L77.26 205.65 L77.51 208.27 L77.75 210.68 L78 212.83 L78.25 214.67 L78.49 216.21 L78.74 217.47 L78.98 218.48 L79.23 219.28 L79.48 219.91 L79.72 220.41 L79.97 220.81 L80.21 221.12 L80.46 221.39 L80.71 221.61 L80.95 221.79 L81.2 221.96 L81.44 222.1 L81.69 222.22 L81.94 222.34 L82.18 222.43 L82.43 222.52 L82.67 222.59 L82.92 222.66 L83.17 222.72 L83.41 222.76 L83.66 222.81 L83.9 222.84 L84.15 222.87 L84.4 222.9" fill="none" stroke="#5a58c0" stroke-width="0.55"/>
<path d="M64.96 222.89 L65.21 222.86 L65.45 222.83 L65.7 222.8 L65.94 222.76 L66.19 222.72 L66.44 222.66 L66.68 222.6 L66.93 222.53 L67.17 222.45 L67.42 222.36 L67.67 222.26 L67.91 222.15 L68.16 222.02 L68.4 221.88 L68.65 221.73 L68.9 221.56 L69.14 221.38 L69.39 221.18 L69.63 220.96 L69.88 220.72 L70.13 220.47 L70.37 220.19 L70.62 219.88 L70.86 219.52 L71.11 219.11 L71.36 218.63 L71.6 218.05 L71.85 217.34 L72.09 216.47 L72.34 215.4 L72.59 214.09 L72.83 212.53 L73.08 210.69 L73.32 208.59 L73.57 206.27 L73.82 203.78 L74.06 201.24 L74.31 198.75 L74.55 196.47 L74.8 194.54 L75.05 193.09 L75.29 192.23 L75.54 192.02 L75.78 192.43 L76.03 193.41 L76.28 194.9 L76.52 196.79 L76.77 198.98 L77.02 201.35 L77.26 203.78 L77.51 206.16 L77.75 208.41 L78 210.48 L78.25 212.31 L78.49 213.9 L78.74 215.25 L78.98 216.38 L79.23 217.31 L79.48 218.08 L79.72 218.7 L79.97 219.22 L80.21 219.65 L80.46 220.02 L80.71 220.33 L80.95 220.61 L81.2 220.86 L81.44 221.08 L81.69 221.28 L81.94 221.47 L82.18 221.64 L82.43 221.79 L82.67 221.93 L82.92 222.06 L83.17 222.18 L83.41 222.28 L83.66 222.38 L83.9 222.46 L84.15 222.54 L84.4 222.6 L84.64 222.66 L84.89 222.71 L85.13 222.75 L85.38 222.79 L85.63 222.83 L85.87 222.85 L86.12 222.88 L86.36 222.9" fill="none" stroke="#da5272" stroke-width="0.55"/>
<path d="M80.4 208.3 H91.2 M80.4 206.8 v3 M91.2 206.8 v3" fill="none" stroke="#8a2636" stroke-width="0.7"/>
<text x="85.5" y="203.4" font-size="2.1" fill="#a83040" text-anchor="middle">M1</text>
<text x="86.5" y="205.7" font-size="2.1" fill="#a83040" text-anchor="middle">5.48%</text>
<text x="102.4" y="190" font-size="4.6" font-weight="bold" fill="#1a1a1a">#21 (DRR)</text>
<path d="M99 191.6 V223 H134" fill="none" stroke="#959bb8" stroke-width="0.6"/>
<path d="M99 191.6 h-1.0" stroke="#959bb8" stroke-width="0.4"/>
<text x="97.9" y="192.3" font-size="1.7" fill="#8e94ae" text-anchor="end">100</text>
<path d="M99 199.45 h-1.0" stroke="#959bb8" stroke-width="0.4"/>
<text x="97.9" y="200.15" font-size="1.7" fill="#8e94ae" text-anchor="end">75</text>
<path d="M99 207.3 h-1.0" stroke="#959bb8" stroke-width="0.4"/>
<text x="97.9" y="208" font-size="1.7" fill="#8e94ae" text-anchor="end">50</text>
<path d="M99 215.15 h-1.0" stroke="#959bb8" stroke-width="0.4"/>
<text x="97.9" y="215.85" font-size="1.7" fill="#8e94ae" text-anchor="end">25</text>
<path d="M99 223 h-1.0" stroke="#959bb8" stroke-width="0.4"/>
<text transform="translate(94.8 207.3) rotate(-90)" font-size="2.0" fill="#6a7090" text-anchor="middle">Count</text>
<text x="103.55" y="226.3" font-size="2.4" fill="#444" text-anchor="middle">-10³</text>
<path d="M103.55 223 v0.9" stroke="#959bb8" stroke-width="0.35"/>
<text x="106.7" y="226.3" font-size="2.4" fill="#444" text-anchor="middle">0</text>
<path d="M106.7 223 v0.9" stroke="#959bb8" stroke-width="0.35"/>
<text x="112.3" y="226.3" font-size="2.4" fill="#444" text-anchor="middle">10³</text>
<path d="M112.3 223 v0.9" stroke="#959bb8" stroke-width="0.35"/>
<text x="120.7" y="226.3" font-size="2.4" fill="#444" text-anchor="middle">10⁴</text>
<path d="M120.7 223 v0.9" stroke="#959bb8" stroke-width="0.35"/>
<text x="129.1" y="226.3" font-size="2.4" fill="#444" text-anchor="middle">10⁵</text>
<path d="M129.1 223 v0.9" stroke="#959bb8" stroke-width="0.35"/>
<text x="113.7" y="228.6" font-size="2.2" fill="#444" text-anchor="middle">CD32b</text>
<path d="M110.75 222.9 L111 222.88 L111.24 222.85 L111.49 222.82 L111.73 222.78 L111.97 222.72 L112.22 222.66 L112.46 222.58 L112.71 222.48 L112.95 222.34 L113.2 222.17 L113.44 221.93 L113.69 221.63 L113.93 221.23 L114.18 220.7 L114.42 220.02 L114.67 219.16 L114.91 218.08 L115.15 216.76 L115.4 215.17 L115.64 213.3 L115.89 211.17 L116.13 208.79 L116.38 206.22 L116.62 203.54 L116.87 200.83 L117.11 198.21 L117.36 195.8 L117.6 193.73 L117.85 192.1 L118.09 191.01 L118.33 190.52 L118.58 190.67 L118.82 191.44 L119.07 192.79 L119.31 194.64 L119.56 196.89 L119.8 199.41 L120.05 202.08 L120.29 204.79 L120.54 207.44 L120.78 209.92 L121.03 212.19 L121.27 214.2 L121.51 215.94 L121.76 217.4 L122 218.61 L122.25 219.59 L122.49 220.36 L122.74 220.96 L122.98 221.43 L123.23 221.78 L123.47 222.05 L123.72 222.25 L123.96 222.41 L124.21 222.53 L124.45 222.62 L124.69 222.69 L124.94 222.75 L125.18 222.8 L125.43 222.83 L125.67 222.86 L125.92 222.89 L125.92 223 L110.75 223 Z" fill="#0a0a0a" stroke="#0a0a0a" stroke-width="0.3"/>
<path d="M112.22 222.9 L112.46 222.84 L112.71 222.76 L112.95 222.63 L113.2 222.45 L113.44 222.2 L113.69 221.86 L113.93 221.4 L114.18 220.79 L114.42 220.01 L114.67 219.03 L114.91 217.82 L115.15 216.37 L115.4 214.68 L115.64 212.73 L115.89 210.57 L116.13 208.22 L116.38 205.76 L116.62 203.25 L116.87 200.78 L117.11 198.47 L117.36 196.42 L117.6 194.72 L117.85 193.46 L118.09 192.71 L118.33 192.51 L118.58 192.86 L118.82 193.76 L119.07 195.16 L119.31 196.97 L119.56 199.1 L119.8 201.47 L120.05 203.95 L120.29 206.46 L120.54 208.9 L120.78 211.2 L121.03 213.3 L121.27 215.18 L121.51 216.81 L121.76 218.19 L122 219.33 L122.25 220.25 L122.49 220.98 L122.74 221.54 L122.98 221.96 L123.23 222.28 L123.47 222.51 L123.72 222.67 L123.96 222.78 L124.21 222.86 L124.45 222.91" fill="none" stroke="#5a58c0" stroke-width="0.55"/>
<path d="M111.97 222.88 L112.22 222.82 L112.46 222.73 L112.71 222.61 L112.95 222.43 L113.2 222.18 L113.44 221.86 L113.69 221.43 L113.93 220.87 L114.18 220.15 L114.42 219.27 L114.67 218.19 L114.91 216.89 L115.15 215.38 L115.4 213.65 L115.64 211.71 L115.89 209.59 L116.13 207.34 L116.38 205.02 L116.62 202.69 L116.87 200.43 L117.11 198.33 L117.36 196.48 L117.6 194.96 L117.85 193.85 L118.09 193.18 L118.33 193 L118.58 193.32 L118.82 194.12 L119.07 195.36 L119.31 196.97 L119.56 198.9 L119.8 201.05 L120.05 203.34 L120.29 205.68 L120.54 207.99 L120.78 210.21 L121.03 212.27 L121.27 214.16 L121.51 215.83 L121.76 217.28 L122 218.51 L122.25 219.54 L122.49 220.37 L122.74 221.04 L122.98 221.56 L123.23 221.96 L123.47 222.26 L123.72 222.48 L123.96 222.65 L124.21 222.76 L124.45 222.84 L124.69 222.9" fill="none" stroke="#da5272" stroke-width="0.55"/>
<path d="M122.5 205.4 H131.5 M122.5 203.9 v3 M131.5 203.9 v3" fill="none" stroke="#8a2636" stroke-width="0.7"/>
<text x="127" y="200.5" font-size="2.1" fill="#a83040" text-anchor="middle">M1</text>
<text x="128" y="202.8" font-size="2.1" fill="#a83040" text-anchor="middle">3.82%</text>
<text x="142.2" y="190" font-size="4.6" font-weight="bold" fill="#1a1a1a">#24 (DRR)</text>
<path d="M138.5 191.6 V223 H174" fill="none" stroke="#959bb8" stroke-width="0.6"/>
<path d="M138.5 191.6 h-1.0" stroke="#959bb8" stroke-width="0.4"/>
<text x="137.4" y="192.3" font-size="1.7" fill="#8e94ae" text-anchor="end">100</text>
<path d="M138.5 199.45 h-1.0" stroke="#959bb8" stroke-width="0.4"/>
<text x="137.4" y="200.15" font-size="1.7" fill="#8e94ae" text-anchor="end">75</text>
<path d="M138.5 207.3 h-1.0" stroke="#959bb8" stroke-width="0.4"/>
<text x="137.4" y="208" font-size="1.7" fill="#8e94ae" text-anchor="end">50</text>
<path d="M138.5 215.15 h-1.0" stroke="#959bb8" stroke-width="0.4"/>
<text x="137.4" y="215.85" font-size="1.7" fill="#8e94ae" text-anchor="end">25</text>
<path d="M138.5 223 h-1.0" stroke="#959bb8" stroke-width="0.4"/>
<text transform="translate(134.3 207.3) rotate(-90)" font-size="2.0" fill="#6a7090" text-anchor="middle">Count</text>
<text x="143.12" y="226.3" font-size="2.4" fill="#444" text-anchor="middle">-10³</text>
<path d="M143.12 223 v0.9" stroke="#959bb8" stroke-width="0.35"/>
<text x="146.31" y="226.3" font-size="2.4" fill="#444" text-anchor="middle">0</text>
<path d="M146.31 223 v0.9" stroke="#959bb8" stroke-width="0.35"/>
<text x="151.99" y="226.3" font-size="2.4" fill="#444" text-anchor="middle">10³</text>
<path d="M151.99 223 v0.9" stroke="#959bb8" stroke-width="0.35"/>
<text x="160.51" y="226.3" font-size="2.4" fill="#444" text-anchor="middle">10⁴</text>
<path d="M160.51 223 v0.9" stroke="#959bb8" stroke-width="0.35"/>
<text x="169.03" y="226.3" font-size="2.4" fill="#444" text-anchor="middle">10⁵</text>
<path d="M169.03 223 v0.9" stroke="#959bb8" stroke-width="0.35"/>
<text x="153.41" y="228.6" font-size="2.2" fill="#444" text-anchor="middle">CD32b</text>
<path d="M143.72 222.9 L143.96 222.85 L144.21 222.78 L144.46 222.68 L144.71 222.54 L144.96 222.35 L145.21 222.1 L145.45 221.78 L145.7 221.37 L145.95 220.86 L146.2 220.25 L146.45 219.53 L146.69 218.69 L146.94 217.75 L147.19 216.73 L147.44 215.65 L147.69 214.53 L147.94 213.43 L148.18 212.39 L148.43 211.45 L148.68 210.66 L148.93 210.05 L149.18 209.66 L149.42 209.5 L149.67 209.54 L149.92 209.73 L150.17 210.07 L150.42 210.54 L150.67 211.13 L150.91 211.8 L151.16 212.53 L151.41 213.31 L151.66 214.09 L151.91 214.87 L152.15 215.62 L152.4 216.33 L152.65 216.98 L152.9 217.56 L153.15 218.07 L153.4 218.5 L153.64 218.87 L153.89 219.16 L154.14 219.4 L154.39 219.58 L154.64 219.71 L154.88 219.81 L155.13 219.87 L155.38 219.91 L155.63 219.93 L155.88 219.94 L156.13 219.94 L156.37 219.94 L156.62 219.94 L156.87 219.94 L157.12 219.94 L157.37 219.95 L157.62 219.96 L157.86 219.97 L158.11 219.99 L158.36 220.01 L158.61 220.03 L158.86 220.04 L159.1 220.05 L159.35 220.05 L159.6 220.03 L159.85 219.99 L160.1 219.94 L160.35 219.86 L160.59 219.74 L160.84 219.6 L161.09 219.42 L161.34 219.2 L161.59 218.94 L161.83 218.65 L162.08 218.32 L162.33 217.95 L162.58 217.55 L162.83 217.12 L163.08 216.68 L163.32 216.23 L163.57 215.78 L163.82 215.34 L164.07 214.92 L164.32 214.53 L164.56 214.19 L164.81 213.9 L165.06 213.67 L165.31 213.52 L165.56 213.44 L165.81 213.43 L166.05 213.54 L166.3 213.79 L166.55 214.16 L166.8 214.64 L167.05 215.21 L167.29 215.86 L167.54 216.55 L167.79 217.26 L168.04 217.97 L168.29 218.65 L168.54 219.3 L168.78 219.91 L169.03 220.45 L169.28 220.93 L169.53 221.34 L169.78 221.69 L170.03 221.99 L170.27 222.23 L170.52 222.42 L170.77 222.57 L171.02 222.68 L171.27 222.77 L171.51 222.84 L171.76 222.89 L171.76 223 L143.72 223 Z" fill="#0a0a0a" stroke="#0a0a0a" stroke-width="0.3"/>
<path d="M140.99 222.89 L141.23 222.84 L141.48 222.79 L141.73 222.72 L141.98 222.63 L142.23 222.51 L142.47 222.36 L142.72 222.17 L142.97 221.93 L143.22 221.65 L143.47 221.3 L143.72 220.88 L143.96 220.38 L144.21 219.79 L144.46 219.1 L144.71 218.31 L144.96 217.42 L145.21 216.41 L145.45 215.29 L145.7 214.06 L145.95 212.74 L146.2 211.32 L146.45 209.82 L146.69 208.27 L146.94 206.69 L147.19 205.1 L147.44 203.53 L147.69 202.02 L147.94 200.6 L148.18 199.29 L148.43 198.14 L148.68 197.17 L148.93 196.4 L149.18 195.86 L149.42 195.56 L149.67 195.52 L149.92 195.85 L150.17 196.59 L150.42 197.7 L150.67 199.14 L150.91 200.84 L151.16 202.73 L151.41 204.74 L151.66 206.81 L151.91 208.86 L152.15 210.84 L152.4 212.7 L152.65 214.41 L152.9 215.95 L153.15 217.3 L153.4 218.46 L153.64 219.44 L153.89 220.25 L154.14 220.91 L154.39 221.43 L154.64 221.85 L154.88 222.16 L155.13 222.4 L155.38 222.58 L155.63 222.71 L155.88 222.8 L156.13 222.87 L156.37 222.91" fill="none" stroke="#da5272" stroke-width="0.55"/>
<path d="M139.74 222.88 L139.99 222.83 L140.24 222.76 L140.49 222.67 L140.74 222.55 L140.99 222.39 L141.23 222.18 L141.48 221.9 L141.73 221.56 L141.98 221.14 L142.23 220.61 L142.47 219.97 L142.72 219.2 L142.97 218.3 L143.22 217.25 L143.47 216.04 L143.72 214.68 L143.96 213.17 L144.21 211.52 L144.46 209.74 L144.71 207.87 L144.96 205.94 L145.21 203.97 L145.45 202.03 L145.7 200.16 L145.95 198.41 L146.2 196.83 L146.45 195.47 L146.69 194.38 L146.94 193.59 L147.19 193.12 L147.44 193.01 L147.69 193.42 L147.94 194.45 L148.18 196.02 L148.43 198.05 L148.68 200.4 L148.93 202.97 L149.18 205.62 L149.42 208.24 L149.67 210.72 L149.92 213.01 L150.17 215.04 L150.42 216.79 L150.67 218.26 L150.91 219.46 L151.16 220.41 L151.41 221.14 L151.66 221.7 L151.91 222.11 L152.15 222.4 L152.4 222.61 L152.65 222.75 L152.9 222.84 L153.15 222.9" fill="none" stroke="#5a58c0" stroke-width="0.55"/>
<path d="M156.4 204.1 H173.5 M156.4 202.6 v3 M173.5 202.6 v3" fill="none" stroke="#8a2636" stroke-width="0.7"/>
<text x="163" y="199.2" font-size="2.1" fill="#a83040" text-anchor="middle">M1</text>
<text x="164" y="201.5" font-size="2.1" fill="#a83040" text-anchor="middle">42.1%</text>
<text x="195.3" y="195.8" font-size="4.3" font-weight="bold" fill="#d42840">Isotype ab</text>
<text x="195.3" y="201.6" font-size="4.3" font-weight="bold" fill="#20207c">FMO</text>
<text x="195.3" y="207.4" font-size="4.35" font-weight="bold" fill="#0a0a0a">CD32b ab</text>
<text x="0.2" y="252.1" font-size="12.6" font-weight="bold" fill="#000">B</text>
<path d="M32.5 248.55 V342.35" stroke="#111" stroke-width="0.9"/>
<path d="M32.1 341.95 H125" stroke="#111" stroke-width="0.9"/>
<path d="M32.5 248.95 h-3.4" stroke="#111" stroke-width="0.8"/>
<text x="28.2" y="250.65" font-size="4.6" font-weight="bold" fill="#111" text-anchor="end">75</text>
<path d="M32.5 272.2 h-3.4" stroke="#111" stroke-width="0.8"/>
<text x="28.2" y="273.9" font-size="4.6" font-weight="bold" fill="#111" text-anchor="end">50</text>
<path d="M32.5 295.45 h-3.4" stroke="#111" stroke-width="0.8"/>
<text x="28.2" y="297.15" font-size="4.6" font-weight="bold" fill="#111" text-anchor="end">25</text>
<path d="M32.5 318.7 h-3.4" stroke="#111" stroke-width="0.8"/>
<text x="28.2" y="320.4" font-size="4.6" font-weight="bold" fill="#111" text-anchor="end">0</text>
<path d="M32.5 341.95 h-3.4" stroke="#111" stroke-width="0.8"/>
<text x="28.2" y="343.65" font-size="4.6" font-weight="bold" fill="#111" text-anchor="end">−25</text>
<path d="M32 341.95 v2" stroke="#111" stroke-width="0.8"/>
<text x="32" y="350.4" font-size="4.5" font-weight="bold" fill="#111" text-anchor="middle">0</text>
<path d="M55.15 341.95 v2" stroke="#111" stroke-width="0.8"/>
<text x="55.15" y="350.4" font-size="4.5" font-weight="bold" fill="#111" text-anchor="middle">25</text>
<path d="M78.3 341.95 v2" stroke="#111" stroke-width="0.8"/>
<text x="78.3" y="350.4" font-size="4.5" font-weight="bold" fill="#111" text-anchor="middle">50</text>
<path d="M101.45 341.95 v2" stroke="#111" stroke-width="0.8"/>
<text x="101.45" y="350.4" font-size="4.5" font-weight="bold" fill="#111" text-anchor="middle">75</text>
<path d="M124.6 341.95 v2" stroke="#111" stroke-width="0.8"/>
<text x="124.6" y="350.4" font-size="4.5" font-weight="bold" fill="#111" text-anchor="middle">100</text>
<text x="78" y="357.9" font-size="5.4" font-weight="bold" fill="#111" text-anchor="middle">CD32b expression (%)</text>
<text transform="translate(18.6 294.3) rotate(-90)" font-size="5.4" font-weight="bold" fill="#111" text-anchor="middle">Max lysis %</text>
<text x="35.7" y="254.8" font-size="5.4" fill="#1a1a1a" stroke="#1a1a1a" stroke-width="0.15"><tspan font-style="italic">R</tspan> = 0.5831</text>
<text x="35.7" y="261.1" font-size="5.4" fill="#1a1a1a" stroke="#1a1a1a" stroke-width="0.15"><tspan font-style="italic">P</tspan> = 0.017</text>
<path d="M32.5 318.4 H124.6" stroke="#555" stroke-width="0.55" stroke-dasharray="0.7 0.7"/>
<path d="M32 305 L34.37 304.63 L36.74 304.21 L39.12 303.76 L41.49 303.27 L43.86 302.74 L46.23 302.17 L48.6 301.57 L50.97 300.92 L53.35 300.24 L55.72 299.51 L58.09 298.75 L60.46 297.95 L62.83 297.11 L65.21 296.23 L67.58 295.31 L69.95 294.36 L72.32 293.36 L74.69 292.33 L77.06 291.26 L79.44 290.15 L81.81 289 L84.18 287.81 L86.55 286.58 L88.92 285.31 L91.29 284.01 L93.67 282.66 L96.04 281.28 L98.41 279.86 L100.78 278.4 L103.15 276.9 L105.53 275.36 L107.9 273.78 L110.27 272.17 L112.64 270.51 L115.01 268.82 L117.38 267.09 L119.76 265.32 L122.13 263.51 L124.5 261.66" fill="none" stroke="#222" stroke-width="0.85" stroke-linecap="round" stroke-dasharray="0.01 1.55"/>
<path d="M32 334 L34.37 332.48 L36.74 330.99 L39.12 329.55 L41.49 328.14 L43.86 326.77 L46.23 325.44 L48.6 324.15 L50.97 322.9 L53.35 321.68 L55.72 320.51 L58.09 319.37 L60.46 318.27 L62.83 317.21 L65.21 316.19 L67.58 315.21 L69.95 314.26 L72.32 313.36 L74.69 312.49 L77.06 311.66 L79.44 310.87 L81.81 310.12 L84.18 309.41 L86.55 308.73 L88.92 308.1 L91.29 307.5 L93.67 306.94 L96.04 306.42 L98.41 305.94 L100.78 305.5 L103.15 305.09 L105.53 304.73 L107.9 304.4 L110.27 304.11 L112.64 303.86 L115.01 303.65 L117.38 303.48 L119.76 303.35 L122.13 303.25 L124.5 303.19" fill="none" stroke="#222" stroke-width="0.85" stroke-linecap="round" stroke-dasharray="0.01 1.55"/>
<path d="M32 320 L124.4 282.4" stroke="#111" stroke-width="0.9"/>
<circle cx="32.6" cy="303.2" r="2.05" fill="#050505"/>
<circle cx="44.7" cy="310.7" r="2.05" fill="#050505"/>
<circle cx="67" cy="312.9" r="2.05" fill="#050505"/>
<circle cx="34" cy="325" r="2.05" fill="#050505"/>
<circle cx="32" cy="327.4" r="2.05" fill="#050505"/>
<circle cx="99.4" cy="259.8" r="2.05" fill="#050505"/>
<circle cx="102.8" cy="267.1" r="2.05" fill="#050505"/>
<circle cx="109.9" cy="265.4" r="2.05" fill="#050505"/>
<circle cx="98.5" cy="303.6" r="2.05" fill="#050505"/>
<circle cx="83.3" cy="326.9" r="2.05" fill="#050505"/>
<circle cx="36.3" cy="304.5" r="2.05" fill="#d81e3c"/>
<circle cx="71.8" cy="302.4" r="2.05" fill="#d81e3c"/>
<circle cx="35.9" cy="326.9" r="2.05" fill="#d81e3c"/>
<circle cx="33.9" cy="332.4" r="2.05" fill="#d81e3c"/>
<circle cx="119.2" cy="276.4" r="2.05" fill="#d81e3c"/>
<circle cx="124.6" cy="326.9" r="2.05" fill="#d81e3c"/>
<circle cx="142.7" cy="255" r="2.05" fill="#d81e3c"/>
<text x="146.6" y="257" font-size="5.6" fill="#1a1a1a" stroke="#1a1a1a" stroke-width="0.18" text-anchor="start">DARA RR</text>
<path d="M139.3 265.2 H145.8" stroke="#222" stroke-width="0.85" stroke-linecap="round" stroke-dasharray="0.01 1.55"/>
<text x="147" y="267.1" font-size="5.6" fill="#1a1a1a" stroke="#1a1a1a" stroke-width="0.18" text-anchor="start">95% CI</text>
<text x="243.6" y="11.5" font-size="12.7" font-weight="bold" fill="#000">C</text>
<text x="276.7" y="9.6" font-size="8.15" fill="#111">CD32b<tspan font-size="4.8" dy="-2.5">+</tspan><tspan dy="2.5"> </tspan>MM cells ≥50%</text>
<path d="M267.6 10.6 H372" stroke="#1a1a1a" stroke-width="0.8"/>
<text x="414.6" y="9.6" font-size="8.1" fill="#111">CD32b<tspan font-size="4.8" dy="-2.5">+</tspan><tspan dy="2.5"> </tspan>MM cells &lt;50%</text>
<path d="M405 10.6 H509.8" stroke="#1a1a1a" stroke-width="0.8"/>
<path d="M265.5 20.5 V137.6" stroke="#111" stroke-width="1.1"/>
<path d="M263.5 114.4 H375" stroke="#0a0a0a" stroke-width="1.1"/>
<path d="M265.5 47 h-2" stroke="#111" stroke-width="0.8"/>
<text x="262.9" y="48.45" font-size="4.5" font-weight="bold" fill="#111" text-anchor="end">50</text>
<path d="M265.5 80.5 h-2" stroke="#111" stroke-width="0.8"/>
<text x="262.9" y="81.95" font-size="4.5" font-weight="bold" fill="#111" text-anchor="end">25</text>
<path d="M265.5 114 h-2" stroke="#111" stroke-width="0.8"/>
<text x="262.9" y="115.45" font-size="4.5" font-weight="bold" fill="#111" text-anchor="end">0</text>
<path d="M265.5 125.75 h-2" stroke="#111" stroke-width="0.8"/>
<text x="262.9" y="127.2" font-size="4.5" font-weight="bold" fill="#111" text-anchor="end">−25</text>
<path d="M265.5 137.5 h-2" stroke="#111" stroke-width="0.8"/>
<text x="262.9" y="138.95" font-size="4.5" font-weight="bold" fill="#111" text-anchor="end">−50</text>
<path d="M274 114.2 v1.8" stroke="#111" stroke-width="0.7"/>
<path d="M287.4 114.2 v1.8" stroke="#111" stroke-width="0.7"/>
<path d="M300.3 114.2 v1.8" stroke="#111" stroke-width="0.7"/>
<path d="M313.5 114.2 v1.8" stroke="#111" stroke-width="0.7"/>
<path d="M326.7 114.2 v1.8" stroke="#111" stroke-width="0.7"/>
<path d="M339.9 114.2 v1.8" stroke="#111" stroke-width="0.7"/>
<path d="M353 114.2 v1.8" stroke="#111" stroke-width="0.7"/>
<path d="M366 114.2 v1.8" stroke="#111" stroke-width="0.7"/>
<text transform="translate(252.5 79.7) rotate(-90)" font-size="5.65" fill="#1a1a1a" stroke="#1a1a1a" stroke-width="0.15" text-anchor="middle">% Antibody specific lysis</text>
<text x="274" y="142.6" font-size="3.7" font-weight="bold" fill="#111" text-anchor="middle">100</text>
<text x="287.4" y="142.6" font-size="3.7" font-weight="bold" fill="#111" text-anchor="middle">10</text>
<text x="300.3" y="142.6" font-size="3.7" font-weight="bold" fill="#111" text-anchor="middle">0</text>
<text x="313.5" y="142.6" font-size="3.7" font-weight="bold" fill="#111" text-anchor="middle">0.01</text>
<text x="326.7" y="142.6" font-size="3.7" font-weight="bold" fill="#111" text-anchor="middle">0.1</text>
<text x="339.9" y="142.6" font-size="3.7" font-weight="bold" fill="#111" text-anchor="middle">1</text>
<text x="353" y="142.6" font-size="3.7" font-weight="bold" fill="#111" text-anchor="middle">10</text>
<text x="366" y="142.6" font-size="3.7" font-weight="bold" fill="#111" text-anchor="middle">100</text>
<text x="275.4" y="147.7" font-size="3.7" font-weight="bold" fill="#111" text-anchor="middle">or 10</text>
<text x="299" y="149.4" font-size="5.8" fill="#1a1a1a" stroke="#1a1a1a" stroke-width="0.18" text-anchor="start">Concentration (µg/mL)</text>
<path d="M403.6 20.5 V137.6" stroke="#111" stroke-width="1.1"/>
<path d="M401.6 114.4 H513" stroke="#0a0a0a" stroke-width="1.1"/>
<path d="M403.6 47 h-2" stroke="#111" stroke-width="0.8"/>
<text x="401" y="48.45" font-size="4.5" font-weight="bold" fill="#111" text-anchor="end">50</text>
<path d="M403.6 80.5 h-2" stroke="#111" stroke-width="0.8"/>
<text x="401" y="81.95" font-size="4.5" font-weight="bold" fill="#111" text-anchor="end">25</text>
<path d="M403.6 114 h-2" stroke="#111" stroke-width="0.8"/>
<text x="401" y="115.45" font-size="4.5" font-weight="bold" fill="#111" text-anchor="end">0</text>
<path d="M403.6 125.75 h-2" stroke="#111" stroke-width="0.8"/>
<text x="401" y="127.2" font-size="4.5" font-weight="bold" fill="#111" text-anchor="end">−25</text>
<path d="M403.6 137.5 h-2" stroke="#111" stroke-width="0.8"/>
<text x="401" y="138.95" font-size="4.5" font-weight="bold" fill="#111" text-anchor="end">−50</text>
<path d="M412.6 114.2 v1.8" stroke="#111" stroke-width="0.7"/>
<path d="M425.4 114.2 v1.8" stroke="#111" stroke-width="0.7"/>
<path d="M438.9 114.2 v1.8" stroke="#111" stroke-width="0.7"/>
<path d="M451.9 114.2 v1.8" stroke="#111" stroke-width="0.7"/>
<path d="M464.8 114.2 v1.8" stroke="#111" stroke-width="0.7"/>
<path d="M477.9 114.2 v1.8" stroke="#111" stroke-width="0.7"/>
<path d="M490.8 114.2 v1.8" stroke="#111" stroke-width="0.7"/>
<path d="M504 114.2 v1.8" stroke="#111" stroke-width="0.7"/>
<text transform="translate(390.5 79.7) rotate(-90)" font-size="5.65" fill="#1a1a1a" stroke="#1a1a1a" stroke-width="0.15" text-anchor="middle">% Antibody specific lysis</text>
<text x="412.6" y="142.6" font-size="3.7" font-weight="bold" fill="#111" text-anchor="middle">100</text>
<text x="425.4" y="142.6" font-size="3.7" font-weight="bold" fill="#111" text-anchor="middle">10</text>
<text x="438.9" y="142.6" font-size="3.7" font-weight="bold" fill="#111" text-anchor="middle">0</text>
<text x="451.9" y="142.6" font-size="3.7" font-weight="bold" fill="#111" text-anchor="middle">0.01</text>
<text x="464.8" y="142.6" font-size="3.7" font-weight="bold" fill="#111" text-anchor="middle">0.1</text>
<text x="477.9" y="142.6" font-size="3.7" font-weight="bold" fill="#111" text-anchor="middle">1</text>
<text x="490.8" y="142.6" font-size="3.7" font-weight="bold" fill="#111" text-anchor="middle">10</text>
<text x="504" y="142.6" font-size="3.7" font-weight="bold" fill="#111" text-anchor="middle">100</text>
<text x="414" y="147.7" font-size="3.7" font-weight="bold" fill="#111" text-anchor="middle">or 10</text>
<text x="437" y="149.4" font-size="5.8" fill="#1a1a1a" stroke="#1a1a1a" stroke-width="0.18" text-anchor="start">Concentration (µg/mL)</text>
<path d="M292.35 69 V134.5" stroke="#0a0a0a" stroke-width="1.0" stroke-dasharray="0.9 0.45"/>
<path d="M430.5 72 V134.5" stroke="#0a0a0a" stroke-width="1.0" stroke-dasharray="0.9 0.45"/>
<path d="M287.4 26.6 L289.6 30.67 L285.2 30.67 Z" fill="#fff" stroke="#111" stroke-width="0.9"/>
<path d="M287.4 47.7 L289.6 51.77 L285.2 51.77 Z" fill="#fff" stroke="#111" stroke-width="0.9"/>
<path d="M287.4 53.1 L289.6 57.17 L285.2 57.17 Z" fill="#fff" stroke="#111" stroke-width="0.9"/>
<path d="M287.4 87.9 L289.6 91.97 L285.2 91.97 Z" fill="#7a1220" stroke="#111" stroke-width="0.9"/>
<path d="M287.4 108 L289.6 112.07 L285.2 112.07 Z" fill="#7a1220" stroke="#111" stroke-width="0.9"/>
<rect x="272.6" y="104.7" width="3.6" height="3.6" fill="#fff" stroke="#111" stroke-width="0.9"/>
<rect x="270.8" y="109.6" width="3.6" height="3.6" fill="#fff" stroke="#111" stroke-width="0.9"/>
<rect x="273.5" y="113.3" width="3.6" height="3.6" fill="#fff" stroke="#111" stroke-width="0.9"/>
<rect x="270.2" y="117.4" width="3.6" height="3.6" fill="#fff" stroke="#111" stroke-width="0.9"/>
<rect x="274.9" y="122.4" width="3.6" height="3.6" fill="#fff" stroke="#111" stroke-width="0.9"/>
<rect x="272.6" y="129.1" width="3.6" height="3.6" fill="#fff" stroke="#111" stroke-width="0.9"/>
<path d="M300.3 113.6 L313.3 55.8 L326.5 44.4 L339.8 34.6 L365.8 30.2" fill="none" stroke="#111" stroke-width="0.65"/>
<path d="M300.3 113.6 L326.5 44.4 L339.8 42.7 L352.9 41.3 L365.8 40.2" fill="none" stroke="#111" stroke-width="0.65"/>
<path d="M300.3 113.6 L313.3 83.6 L326.5 72.5 L339.8 63.1 L352.9 37.7" fill="none" stroke="#111" stroke-width="0.65"/>
<path d="M300.3 113.6 L313.3 90.8 L339.8 96 L365.8 104.4" fill="none" stroke="#111" stroke-width="0.65"/>
<path d="M300.3 113.6 L313.7 120.6 L326.7 123.1 L339.8 118.5 L352.9 119" fill="none" stroke="#111" stroke-width="0.65"/>
<path d="M300.3 113.6 L313.7 115.6 L326.7 89.2 L339.8 86.7 L352.9 100.8 L365.8 50.2" fill="none" stroke="#e65068" stroke-width="0.45"/>
<path d="M300.3 113.6 L313.7 119 L326.7 129.8 L339.8 134 L352.9 124.2" fill="none" stroke="#e65068" stroke-width="0.45"/>
<circle cx="313.3" cy="55.8" r="1.9" fill="#050505"/>
<circle cx="326.5" cy="44.4" r="1.9" fill="#050505"/>
<circle cx="339.8" cy="34.6" r="1.9" fill="#050505"/>
<circle cx="365.8" cy="30.2" r="1.9" fill="#050505"/>
<circle cx="326.5" cy="44.4" r="1.9" fill="#050505"/>
<circle cx="339.8" cy="42.7" r="1.9" fill="#050505"/>
<circle cx="352.9" cy="41.3" r="1.9" fill="#050505"/>
<circle cx="365.8" cy="40.2" r="1.9" fill="#050505"/>
<circle cx="313.3" cy="83.6" r="1.9" fill="#050505"/>
<circle cx="326.5" cy="72.5" r="1.9" fill="#050505"/>
<circle cx="339.8" cy="63.1" r="1.9" fill="#050505"/>
<circle cx="352.9" cy="37.7" r="1.9" fill="#050505"/>
<circle cx="313.3" cy="90.8" r="1.9" fill="#050505"/>
<circle cx="339.8" cy="96" r="1.9" fill="#050505"/>
<circle cx="365.8" cy="104.4" r="1.9" fill="#050505"/>
<circle cx="313.7" cy="120.6" r="1.9" fill="#050505"/>
<circle cx="326.7" cy="123.1" r="1.9" fill="#050505"/>
<circle cx="339.8" cy="118.5" r="1.9" fill="#050505"/>
<circle cx="352.9" cy="119" r="1.9" fill="#050505"/>
<circle cx="313.7" cy="115.6" r="1.9" fill="#d81e3c" stroke="#a01028" stroke-width="0.5"/>
<circle cx="326.7" cy="89.2" r="1.9" fill="#d81e3c" stroke="#a01028" stroke-width="0.5"/>
<circle cx="339.8" cy="86.7" r="1.9" fill="#d81e3c" stroke="#a01028" stroke-width="0.5"/>
<circle cx="352.9" cy="100.8" r="1.9" fill="#d81e3c" stroke="#a01028" stroke-width="0.5"/>
<circle cx="365.8" cy="50.2" r="1.9" fill="#d81e3c" stroke="#a01028" stroke-width="0.5"/>
<circle cx="313.7" cy="119" r="1.9" fill="#d81e3c" stroke="#a01028" stroke-width="0.5"/>
<circle cx="326.7" cy="129.8" r="1.9" fill="#d81e3c" stroke="#a01028" stroke-width="0.5"/>
<circle cx="339.8" cy="134" r="1.9" fill="#d81e3c" stroke="#a01028" stroke-width="0.5"/>
<circle cx="352.9" cy="124.2" r="1.9" fill="#d81e3c" stroke="#a01028" stroke-width="0.5"/>
<circle cx="300.3" cy="113.6" r="2" fill="#d81e3c" stroke="#a01028" stroke-width="0.5"/>
<path d="M425.4 57.7 L427.6 61.77 L423.2 61.77 Z" fill="#fff" stroke="#111" stroke-width="0.9"/>
<path d="M425.4 68.4 L427.6 72.47 L423.2 72.47 Z" fill="#fff" stroke="#111" stroke-width="0.9"/>
<path d="M425.4 91.7 L427.6 95.77 L423.2 95.77 Z" fill="#7a1220" stroke="#111" stroke-width="0.9"/>
<path d="M425.4 103.4 L427.6 107.47 L423.2 107.47 Z" fill="#7a1220" stroke="#111" stroke-width="0.9"/>
<path d="M425.4 113.5 L427.3 117.02 L423.5 117.02 Z" fill="#3a1a1e" stroke="#111" stroke-width="0.9"/>
<path d="M425.4 118.6 L427.3 122.11 L423.5 122.11 Z" fill="#3a1a1e" stroke="#111" stroke-width="0.9"/>
<rect x="410.9" y="102.9" width="3.4" height="3.4" fill="#c41e3a" stroke="#5a0c18" stroke-width="0.9"/>
<rect x="410.9" y="100" width="3.4" height="3.4" fill="#c41e3a" stroke="#5a0c18" stroke-width="0.9"/>
<rect x="410.9" y="97.2" width="3.4" height="3.4" fill="#c41e3a" stroke="#5a0c18" stroke-width="0.9"/>
<rect x="411" y="105.9" width="3.2" height="3.2" fill="#f6d8d8" stroke="#5a0c18" stroke-width="0.9"/>
<rect x="410.9" y="114.9" width="3.4" height="3.4" fill="#fff" stroke="#111" stroke-width="0.9"/>
<rect x="410.9" y="118.4" width="3.4" height="3.4" fill="#fff" stroke="#111" stroke-width="0.9"/>
<rect x="411.1" y="135.8" width="3" height="3" fill="#c41e3a" stroke="#6a0c1c" stroke-width="0.9"/>
<path d="M438.9 113.8 L464.8 102.7 L477.9 95.6 L490.8 91.6 L504 91.5" fill="none" stroke="#111" stroke-width="0.65"/>
<path d="M438.9 113.8 L451.9 121 L464.8 119 L477.9 120 L490.8 101.7 L504 116.9" fill="none" stroke="#111" stroke-width="0.65"/>
<path d="M438.9 113.8 L451.9 131.9 L464.8 126.3 L477.9 125.8 L490.8 104.4" fill="none" stroke="#111" stroke-width="0.65"/>
<path d="M438.9 113.8 L451.9 118 L464.8 116 L477.9 116.9 L490.8 118 L504 119.6" fill="none" stroke="#111" stroke-width="0.65"/>
<path d="M438.9 113.8 L451.9 97.1 L464.8 119 L477.9 110.6 L490.8 89.4 L504 121" fill="none" stroke="#e04058" stroke-width="0.5"/>
<path d="M438.9 113.8 L451.9 115.8 L464.8 114.8 L477.9 123.1 L490.8 91.9" fill="none" stroke="#e04058" stroke-width="0.5"/>
<path d="M438.9 113.8 L451.9 124.6 L464.8 126.3 L477.9 123.1 L490.8 121.7 L504 120" fill="none" stroke="#e04058" stroke-width="0.5"/>
<path d="M438.9 113.8 L451.9 136.7 L464.8 137.1 L477.9 130.8" fill="none" stroke="#e04058" stroke-width="0.5"/>
<path d="M438.9 113.8 L451.9 124.6 L464.8 119 L477.9 121 L490.8 119" fill="none" stroke="#e04058" stroke-width="0.5"/>
<circle cx="464.8" cy="102.7" r="1.9" fill="#050505"/>
<circle cx="477.9" cy="95.6" r="1.9" fill="#050505"/>
<circle cx="490.8" cy="91.6" r="1.9" fill="#050505"/>
<circle cx="504" cy="91.5" r="1.9" fill="#050505"/>
<circle cx="451.9" cy="121" r="1.9" fill="#050505"/>
<circle cx="464.8" cy="119" r="1.9" fill="#050505"/>
<circle cx="477.9" cy="120" r="1.9" fill="#050505"/>
<circle cx="490.8" cy="101.7" r="1.9" fill="#050505"/>
<circle cx="504" cy="116.9" r="1.9" fill="#050505"/>
<circle cx="451.9" cy="131.9" r="1.9" fill="#050505"/>
<circle cx="464.8" cy="126.3" r="1.9" fill="#050505"/>
<circle cx="477.9" cy="125.8" r="1.9" fill="#050505"/>
<circle cx="490.8" cy="104.4" r="1.9" fill="#050505"/>
<circle cx="451.9" cy="118" r="1.9" fill="#050505"/>
<circle cx="464.8" cy="116" r="1.9" fill="#050505"/>
<circle cx="477.9" cy="116.9" r="1.9" fill="#050505"/>
<circle cx="490.8" cy="118" r="1.9" fill="#050505"/>
<circle cx="504" cy="119.6" r="1.9" fill="#050505"/>
<circle cx="451.9" cy="97.1" r="1.9" fill="#d81e3c" stroke="#a01028" stroke-width="0.5"/>
<circle cx="464.8" cy="119" r="1.9" fill="#d81e3c" stroke="#a01028" stroke-width="0.5"/>
<circle cx="477.9" cy="110.6" r="1.9" fill="#d81e3c" stroke="#a01028" stroke-width="0.5"/>
<circle cx="490.8" cy="89.4" r="1.9" fill="#d81e3c" stroke="#a01028" stroke-width="0.5"/>
<circle cx="504" cy="121" r="1.9" fill="#d81e3c" stroke="#a01028" stroke-width="0.5"/>
<circle cx="451.9" cy="115.8" r="1.9" fill="#d81e3c" stroke="#a01028" stroke-width="0.5"/>
<circle cx="464.8" cy="114.8" r="1.9" fill="#d81e3c" stroke="#a01028" stroke-width="0.5"/>
<circle cx="477.9" cy="123.1" r="1.9" fill="#d81e3c" stroke="#a01028" stroke-width="0.5"/>
<circle cx="490.8" cy="91.9" r="1.9" fill="#d81e3c" stroke="#a01028" stroke-width="0.5"/>
<circle cx="451.9" cy="124.6" r="1.9" fill="#d81e3c" stroke="#a01028" stroke-width="0.5"/>
<circle cx="464.8" cy="126.3" r="1.9" fill="#d81e3c" stroke="#a01028" stroke-width="0.5"/>
<circle cx="477.9" cy="123.1" r="1.9" fill="#d81e3c" stroke="#a01028" stroke-width="0.5"/>
<circle cx="490.8" cy="121.7" r="1.9" fill="#d81e3c" stroke="#a01028" stroke-width="0.5"/>
<circle cx="504" cy="120" r="1.9" fill="#d81e3c" stroke="#a01028" stroke-width="0.5"/>
<circle cx="451.9" cy="136.7" r="1.9" fill="#d81e3c" stroke="#a01028" stroke-width="0.5"/>
<circle cx="464.8" cy="137.1" r="1.9" fill="#d81e3c" stroke="#a01028" stroke-width="0.5"/>
<circle cx="477.9" cy="130.8" r="1.9" fill="#d81e3c" stroke="#a01028" stroke-width="0.5"/>
<circle cx="451.9" cy="124.6" r="1.9" fill="#d81e3c" stroke="#a01028" stroke-width="0.5"/>
<circle cx="464.8" cy="119" r="1.9" fill="#d81e3c" stroke="#a01028" stroke-width="0.5"/>
<circle cx="477.9" cy="121" r="1.9" fill="#d81e3c" stroke="#a01028" stroke-width="0.5"/>
<circle cx="490.8" cy="119" r="1.9" fill="#d81e3c" stroke="#a01028" stroke-width="0.5"/>
<circle cx="438.9" cy="113.8" r="2.1" fill="#d81e3c" stroke="#a01028" stroke-width="0.5"/>
<text x="452.3" y="29.1" font-size="3.7" fill="#222" stroke="#222" stroke-width="0.12" text-anchor="middle">Dara</text>
<text x="452.3" y="34" font-size="3.7" fill="#222" stroke="#222" stroke-width="0.12" text-anchor="middle">unexposed</text>
<text x="452.3" y="38.9" font-size="3.7" fill="#222" stroke="#222" stroke-width="0.12" text-anchor="middle">samples</text>
<text x="512.3" y="29.1" font-size="3.7" fill="#b01830" stroke="#b01830" stroke-width="0.12" text-anchor="middle">Dara</text>
<text x="512.3" y="34" font-size="3.7" fill="#b01830" stroke="#b01830" stroke-width="0.12" text-anchor="middle">R/R</text>
<text x="512.3" y="38.9" font-size="3.7" fill="#b01830" stroke="#b01830" stroke-width="0.12" text-anchor="middle">samples</text>
<circle cx="452.7" cy="44.1" r="2.3" fill="#050505"/>
<rect x="450.4" y="49.9" width="4.6" height="4.6" fill="#fff" stroke="#111" stroke-width="0.9"/>
<path d="M452.7 57.9 L455.1 62.34 L450.3 62.34 Z" fill="#fff" stroke="#111" stroke-width="0.9"/>
<text x="462.3" y="46.2" font-size="5.7" fill="#1a1a1a" stroke="#1a1a1a" stroke-width="0.18" text-anchor="start">NVS32b_afuc</text>
<text x="462.7" y="54.4" font-size="5.7" fill="#1a1a1a" stroke="#1a1a1a" stroke-width="0.18" text-anchor="start">IgG control_afuc</text>
<text x="463.3" y="62.2" font-size="5.7" fill="#1a1a1a" stroke="#1a1a1a" stroke-width="0.18" text-anchor="start">Daratumumab</text>
<circle cx="512.2" cy="43.8" r="2.3" fill="#d81e3c" stroke="#a01028" stroke-width="0.5"/>
<rect x="510" y="49.6" width="4.4" height="4.4" fill="#d01c38" stroke="#300" stroke-width="0.9"/>
<path d="M512.2 57.9 L514.6 62.34 L509.8 62.34 Z" fill="#c41e3a" stroke="#111" stroke-width="0.9"/>
<text x="243.7" y="175.8" font-size="12.7" font-weight="bold" fill="#000">D</text>
<path d="M265.3 173.01 V289.15" stroke="#0a0a0a" stroke-width="1.15"/>
<path d="M262.7 266.5 H375.4" stroke="#0a0a0a" stroke-width="1.0"/>
<path d="M265.3 173.41 h-2.7" stroke="#0a0a0a" stroke-width="0.85"/>
<text x="262.2" y="174.99" font-size="4.4" font-weight="bold" fill="#111" text-anchor="end">70</text>
<path d="M265.3 199.55 h-2.7" stroke="#0a0a0a" stroke-width="0.85"/>
<text x="262.2" y="201.13" font-size="4.4" font-weight="bold" fill="#111" text-anchor="end">50</text>
<path d="M265.3 225.69 h-2.7" stroke="#0a0a0a" stroke-width="0.85"/>
<text x="262.2" y="227.27" font-size="4.4" font-weight="bold" fill="#111" text-anchor="end">30</text>
<path d="M265.3 251.83 h-2.7" stroke="#0a0a0a" stroke-width="0.85"/>
<text x="262.2" y="253.41" font-size="4.4" font-weight="bold" fill="#111" text-anchor="end">10</text>
<path d="M265.3 266.5 h-2.7" stroke="#0a0a0a" stroke-width="0.85"/>
<text x="262.2" y="268.08" font-size="4.4" font-weight="bold" fill="#111" text-anchor="end">0</text>
<path d="M265.3 277.62 h-2.7" stroke="#0a0a0a" stroke-width="0.85"/>
<text x="262.2" y="279.21" font-size="4.4" font-weight="bold" fill="#111" text-anchor="end">−25</text>
<path d="M265.3 288.75 h-2.7" stroke="#0a0a0a" stroke-width="0.85"/>
<text x="262.2" y="290.33" font-size="4.4" font-weight="bold" fill="#111" text-anchor="end">−50</text>
<path d="M274 266.5 v1.8" stroke="#111" stroke-width="0.7"/>
<path d="M287.4 266.5 v1.8" stroke="#111" stroke-width="0.7"/>
<path d="M299.9 266.5 v1.8" stroke="#111" stroke-width="0.7"/>
<path d="M313.2 266.5 v1.8" stroke="#111" stroke-width="0.7"/>
<path d="M326.5 266.5 v1.8" stroke="#111" stroke-width="0.7"/>
<path d="M339.6 266.5 v1.8" stroke="#111" stroke-width="0.7"/>
<path d="M352.8 266.5 v1.8" stroke="#111" stroke-width="0.7"/>
<path d="M366 266.5 v1.8" stroke="#111" stroke-width="0.7"/>
<text x="274.1" y="291.3" font-size="3.45" font-weight="bold" fill="#111" text-anchor="middle">100</text>
<text x="287.5" y="291.3" font-size="3.45" font-weight="bold" fill="#111" text-anchor="middle">10</text>
<text x="300" y="291.3" font-size="3.45" font-weight="bold" fill="#111" text-anchor="middle">0</text>
<text x="313.3" y="291.3" font-size="3.45" font-weight="bold" fill="#111" text-anchor="middle">0.01</text>
<text x="326.6" y="291.3" font-size="3.45" font-weight="bold" fill="#111" text-anchor="middle">0.1</text>
<text x="339.7" y="291.3" font-size="3.45" font-weight="bold" fill="#111" text-anchor="middle">1</text>
<text x="352.9" y="291.3" font-size="3.45" font-weight="bold" fill="#111" text-anchor="middle">10</text>
<text x="366.1" y="291.3" font-size="3.45" font-weight="bold" fill="#111" text-anchor="middle">100</text>
<text x="275.4" y="296.3" font-size="3.45" font-weight="bold" fill="#111" text-anchor="middle">or 10</text>
<text x="299.2" y="299.7" font-size="5.65" fill="#1a1a1a" stroke="#1a1a1a" stroke-width="0.18" text-anchor="start">Concentration (µg/mL)</text>
<path d="M403.3 173.51 V289.65" stroke="#0a0a0a" stroke-width="1.15"/>
<path d="M400.7 267 H513.3" stroke="#0a0a0a" stroke-width="1.0"/>
<path d="M403.3 173.91 h-2.7" stroke="#0a0a0a" stroke-width="0.85"/>
<text x="400.2" y="175.75" font-size="5.1" font-weight="bold" fill="#111" text-anchor="end">70</text>
<path d="M403.3 200.05 h-2.7" stroke="#0a0a0a" stroke-width="0.85"/>
<text x="400.2" y="201.89" font-size="5.1" font-weight="bold" fill="#111" text-anchor="end">50</text>
<path d="M403.3 226.19 h-2.7" stroke="#0a0a0a" stroke-width="0.85"/>
<text x="400.2" y="228.03" font-size="5.1" font-weight="bold" fill="#111" text-anchor="end">30</text>
<path d="M403.3 252.33 h-2.7" stroke="#0a0a0a" stroke-width="0.85"/>
<text x="400.2" y="254.17" font-size="5.1" font-weight="bold" fill="#111" text-anchor="end">10</text>
<path d="M403.3 267 h-2.7" stroke="#0a0a0a" stroke-width="0.85"/>
<text x="400.2" y="268.84" font-size="5.1" font-weight="bold" fill="#111" text-anchor="end">0</text>
<path d="M403.3 278.12 h-2.7" stroke="#0a0a0a" stroke-width="0.85"/>
<text x="400.2" y="279.96" font-size="5.1" font-weight="bold" fill="#111" text-anchor="end">−25</text>
<path d="M403.3 289.25 h-2.7" stroke="#0a0a0a" stroke-width="0.85"/>
<text x="400.2" y="291.09" font-size="5.1" font-weight="bold" fill="#111" text-anchor="end">−50</text>
<path d="M412.6 267 v1.8" stroke="#111" stroke-width="0.7"/>
<path d="M425.6 267 v1.8" stroke="#111" stroke-width="0.7"/>
<path d="M438.4 267 v1.8" stroke="#111" stroke-width="0.7"/>
<path d="M451.5 267 v1.8" stroke="#111" stroke-width="0.7"/>
<path d="M464.8 267 v1.8" stroke="#111" stroke-width="0.7"/>
<path d="M477.6 267 v1.8" stroke="#111" stroke-width="0.7"/>
<path d="M490.5 267 v1.8" stroke="#111" stroke-width="0.7"/>
<path d="M503.6 267 v1.8" stroke="#111" stroke-width="0.7"/>
<text x="412" y="291.6" font-size="3.45" font-weight="bold" fill="#111" text-anchor="middle">100</text>
<text x="425" y="291.6" font-size="3.45" font-weight="bold" fill="#111" text-anchor="middle">10</text>
<text x="437.8" y="291.6" font-size="3.45" font-weight="bold" fill="#111" text-anchor="middle">0</text>
<text x="450.9" y="291.6" font-size="3.45" font-weight="bold" fill="#111" text-anchor="middle">0.01</text>
<text x="464.2" y="291.6" font-size="3.45" font-weight="bold" fill="#111" text-anchor="middle">0.1</text>
<text x="477" y="291.6" font-size="3.45" font-weight="bold" fill="#111" text-anchor="middle">1</text>
<text x="489.9" y="291.6" font-size="3.45" font-weight="bold" fill="#111" text-anchor="middle">10</text>
<text x="503" y="291.6" font-size="3.45" font-weight="bold" fill="#111" text-anchor="middle">100</text>
<text x="413.3" y="296.6" font-size="3.45" font-weight="bold" fill="#111" text-anchor="middle">or 10</text>
<text x="437.3" y="299.7" font-size="5.65" fill="#1a1a1a" stroke="#1a1a1a" stroke-width="0.18" text-anchor="start">Concentration (µg/mL)</text>
<path d="M287.4 204 V234" stroke="#222" stroke-width="0.6" fill="none"/>
<path d="M287.4 218.5 L289.1 221.64 L285.7 221.64 Z" fill="#fff" stroke="#111" stroke-width="0.6"/>
<path d="M274 267 V273" stroke="#222" stroke-width="0.6" fill="none"/>
<rect x="272.3" y="268.4" width="3.4" height="4.4" rx="0.8" fill="#fff" stroke="#222" stroke-width="0.7"/>
<path d="M313.2 240.8 V264.6" stroke="#222" stroke-width="0.6" fill="none"/>
<path d="M326.5 231 V269.6" stroke="#222" stroke-width="0.6" fill="none"/>
<path d="M339.6 221.7 V258.8" stroke="#222" stroke-width="0.6" fill="none"/>
<path d="M352.8 220.2 V262.3" stroke="#222" stroke-width="0.6" fill="none"/>
<path d="M366 191.9 V225.4" stroke="#222" stroke-width="0.6" fill="none"/>
<path d="M299.9 266.5 L313.2 252.9 L326.5 252.3 L339.6 240.4 L352.8 241.5 L366 208.1" fill="none" stroke="#0a0a0a" stroke-width="1.4"/>
<circle cx="299.9" cy="266.5" r="1.6" fill="#bdbdbd" stroke="#222" stroke-width="0.7"/>
<circle cx="313.2" cy="252.9" r="1.6" fill="#bdbdbd" stroke="#222" stroke-width="0.7"/>
<circle cx="326.5" cy="252.3" r="1.6" fill="#bdbdbd" stroke="#222" stroke-width="0.7"/>
<circle cx="339.6" cy="240.4" r="1.6" fill="#bdbdbd" stroke="#222" stroke-width="0.7"/>
<circle cx="352.8" cy="241.5" r="1.6" fill="#bdbdbd" stroke="#222" stroke-width="0.7"/>
<circle cx="366" cy="208.1" r="1.6" fill="#bdbdbd" stroke="#222" stroke-width="0.7"/>
<path d="M269.7 174.3 h7.6" stroke="#111" stroke-width="1.2"/>
<path d="M271.7 174.3 L273.5 172.86 L275.3 174.3 L273.5 175.74 Z" fill="#d8d8d8" stroke="#111" stroke-width="0.7"/>
<path d="M273.5 179.65 L274.85 182.15 L272.15 182.15 Z" fill="#fff" stroke="#222" stroke-width="0.55"/>
<rect x="272.15" y="185.95" width="2.7" height="2.7" fill="#fff" stroke="#222" stroke-width="0.55"/>
<text x="281.4" y="176.1" font-size="5.5" fill="#1a1a1a" stroke="#1a1a1a" stroke-width="0.18" text-anchor="start">NVS32b_afuc</text>
<text x="281.4" y="182.7" font-size="5.5" fill="#1a1a1a" stroke="#1a1a1a" stroke-width="0.18" text-anchor="start">Daratumumab</text>
<text x="281.4" y="189.1" font-size="5.5" fill="#1a1a1a" stroke="#1a1a1a" stroke-width="0.18" text-anchor="start">IgG control_afuc</text>
<path d="M407.8 179 h7.6" stroke="#111" stroke-width="1.2"/>
<path d="M409.3 179 L411.6 177.16 L413.9 179 L411.6 180.84 Z" fill="#d8d8d8" stroke="#111" stroke-width="0.7"/>
<path d="M411.6 186.08 L413.33 189.27 L409.88 189.27 Z" fill="#fff" stroke="#222" stroke-width="0.55"/>
<rect x="409.88" y="193.78" width="3.45" height="3.45" fill="#fff" stroke="#222" stroke-width="0.55"/>
<text x="419.4" y="180.9" font-size="5.7" fill="#1a1a1a" stroke="#1a1a1a" stroke-width="0.18" text-anchor="start">NVS32b_afuc</text>
<text x="419.4" y="189.5" font-size="5.7" fill="#1a1a1a" stroke="#1a1a1a" stroke-width="0.18" text-anchor="start">Daratumumab</text>
<text x="419.4" y="197.6" font-size="5.7" fill="#1a1a1a" stroke="#1a1a1a" stroke-width="0.18" text-anchor="start">IgG control_afuc</text>
<path d="M425.6 237.7 V255.3 M424.6 237.7 h2 M424.6 255.3 h2" stroke="#222" stroke-width="0.6" fill="none"/>
<path d="M425.6 246.3 L427.5 249.81 L423.7 249.81 Z" fill="#fff" stroke="#111" stroke-width="0.6"/>
<path d="M412.6 261.9 V268 M411.8 261.9 h1.6 M411.8 268 h1.6" stroke="#222" stroke-width="0.6" fill="none"/>
<rect x="410.7" y="267.2" width="3.8" height="4.6" rx="0.9" fill="#fff" stroke="#222" stroke-width="0.7"/>
<path d="M451.5 271.5 V278 M450.6 271.5 h1.8 M450.6 278 h1.8" stroke="#222" stroke-width="0.6" fill="none"/>
<path d="M464.8 269.5 V276 M463.9 269.5 h1.8 M463.9 276 h1.8" stroke="#222" stroke-width="0.6" fill="none"/>
<path d="M477.6 269.5 V275.2 M476.7 269.5 h1.8 M476.7 275.2 h1.8" stroke="#222" stroke-width="0.6" fill="none"/>
<path d="M490.5 254.6 V268.5 M489.6 254.6 h1.8 M489.6 268.5 h1.8" stroke="#222" stroke-width="0.6" fill="none"/>
<path d="M503.6 260.8 V270.8 M502.7 260.8 h1.8 M502.7 270.8 h1.8" stroke="#222" stroke-width="0.6" fill="none"/>
<path d="M438.4 267.1 L451.5 274.8 L464.8 272.7 L477.6 272.3 L490.5 261.3 L503.6 268.5" fill="none" stroke="#0a0a0a" stroke-width="1.4"/>
<circle cx="438.4" cy="267.1" r="2" fill="#bdbdbd" stroke="#222" stroke-width="0.7"/>
<circle cx="451.5" cy="274.8" r="2" fill="#bdbdbd" stroke="#222" stroke-width="0.7"/>
<circle cx="464.8" cy="272.7" r="2" fill="#bdbdbd" stroke="#222" stroke-width="0.7"/>
<circle cx="477.6" cy="272.3" r="2" fill="#bdbdbd" stroke="#222" stroke-width="0.7"/>
<circle cx="490.5" cy="261.3" r="2" fill="#bdbdbd" stroke="#222" stroke-width="0.7"/>
<circle cx="503.6" cy="268.5" r="2" fill="#bdbdbd" stroke="#222" stroke-width="0.7"/>
</g>
</svg>
</body></html>
